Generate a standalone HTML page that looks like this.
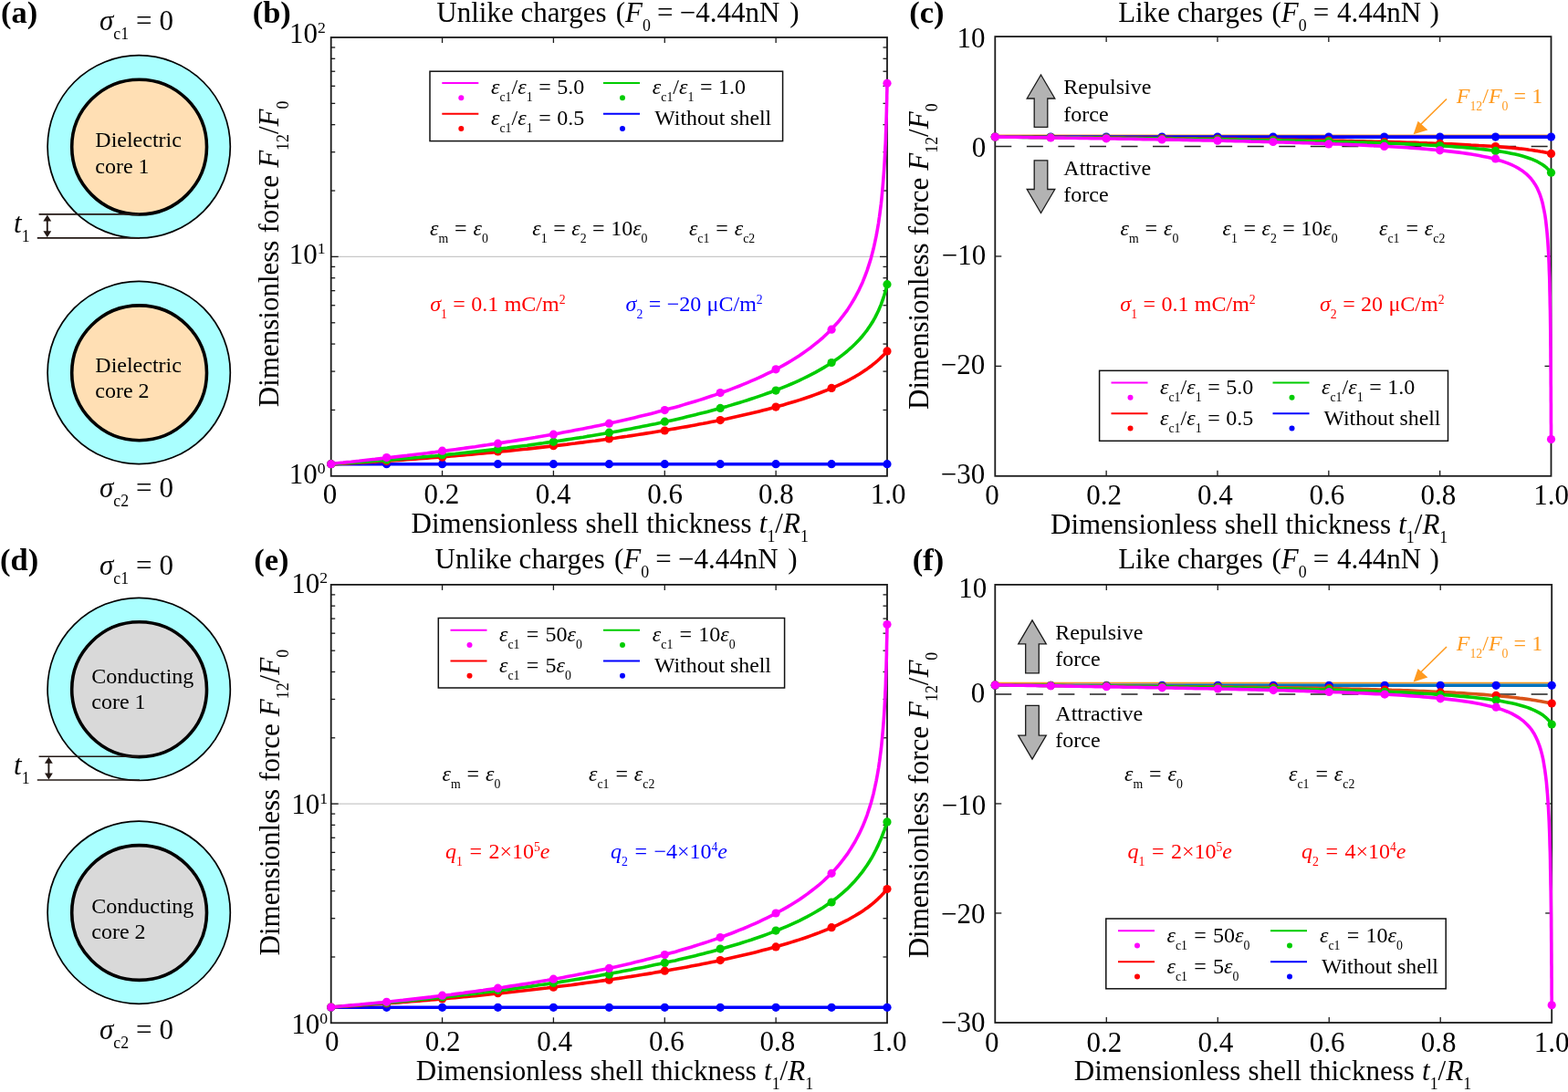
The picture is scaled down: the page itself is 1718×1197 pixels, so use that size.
<!DOCTYPE html>
<html lang="en"><head><meta charset="utf-8"><title>Figure</title>
<style>
html,body{margin:0;padding:0;background:#fff;}
body{width:1718px;height:1197px;overflow:hidden;}
svg{display:block;font-family:'Liberation Serif','DejaVu Serif',serif;}
text{white-space:pre;}
</style></head><body>
<svg width="1718" height="1197" viewBox="0 0 1718 1197">
<rect width="1718" height="1197" fill="#fff"/>
<circle cx="152.2" cy="160.8" r="100.1" fill="#aaffff" stroke="#000" stroke-width="1.7"/>
<circle cx="152.6" cy="161.10000000000002" r="73.9" fill="#ffdfb4" stroke="#000" stroke-width="3.6"/>
<text x="104.30" y="161.00" font-size="24">Dielectric</text>
<text x="104.30" y="189.70" font-size="24">core 1</text>
<circle cx="152.2" cy="408.5" r="100.1" fill="#aaffff" stroke="#000" stroke-width="1.7"/>
<circle cx="152.6" cy="408.8" r="73.9" fill="#ffdfb4" stroke="#000" stroke-width="3.6"/>
<text x="104.30" y="407.80" font-size="24">Dielectric</text>
<text x="104.30" y="436.30" font-size="24">core 2</text>
<line x1="42.60" y1="234.90" x2="152.00" y2="234.90" stroke="#231815" stroke-width="1.6"/>
<line x1="40.80" y1="260.90" x2="153.00" y2="260.90" stroke="#231815" stroke-width="1.6"/>
<line x1="51.80" y1="239.90" x2="51.80" y2="255.90" stroke="#231815" stroke-width="1.9"/>
<path d="M51.8 235.5 L47.4 242.5 L56.199999999999996 242.5 Z" fill="#231815"/>
<path d="M51.8 260.29999999999995 L47.4 253.29999999999998 L56.199999999999996 253.29999999999998 Z" fill="#231815"/>
<text x="15.00" y="255.00" font-size="31"><tspan font-style="italic">t</tspan><tspan dy="10.23" font-size="17.82">1</tspan></text>
<text x="109.00" y="33.00" font-size="31" word-spacing="0.2"><tspan font-style="italic">σ</tspan><tspan dy="10.23" font-size="17.82">c1</tspan><tspan dy="-10.23"> = 0</tspan></text>
<text x="109.00" y="544.60" font-size="31" word-spacing="0.2"><tspan font-style="italic">σ</tspan><tspan dy="10.23" font-size="17.82">c2</tspan><tspan dy="-10.23"> = 0</tspan></text>
<text x="1.00" y="24.90" font-size="34.5" font-weight="bold">(a)</text>
<circle cx="152.2" cy="755.4" r="100.1" fill="#aaffff" stroke="#000" stroke-width="1.7"/>
<circle cx="152.6" cy="755.6999999999999" r="73.9" fill="#d9d9d9" stroke="#000" stroke-width="3.6"/>
<text x="100.30" y="748.60" font-size="24">Conducting</text>
<text x="100.30" y="777.40" font-size="24">core 1</text>
<circle cx="152.2" cy="1000.2" r="100.1" fill="#aaffff" stroke="#000" stroke-width="1.7"/>
<circle cx="152.6" cy="1000.5" r="73.9" fill="#d9d9d9" stroke="#000" stroke-width="3.6"/>
<text x="100.30" y="1000.50" font-size="24">Conducting</text>
<text x="100.30" y="1029.30" font-size="24">core 2</text>
<line x1="42.60" y1="829.20" x2="152.00" y2="829.20" stroke="#231815" stroke-width="1.6"/>
<line x1="40.80" y1="855.00" x2="153.00" y2="855.00" stroke="#231815" stroke-width="1.6"/>
<line x1="53.40" y1="834.20" x2="53.40" y2="850.00" stroke="#231815" stroke-width="1.9"/>
<path d="M53.4 829.8000000000001 L49.0 836.8000000000001 L57.8 836.8000000000001 Z" fill="#231815"/>
<path d="M53.4 854.4 L49.0 847.4 L57.8 847.4 Z" fill="#231815"/>
<text x="15.00" y="849.20" font-size="31"><tspan font-style="italic">t</tspan><tspan dy="10.23" font-size="17.82">1</tspan></text>
<text x="109.00" y="630.00" font-size="31" word-spacing="0.2"><tspan font-style="italic">σ</tspan><tspan dy="10.23" font-size="17.82">c1</tspan><tspan dy="-10.23"> = 0</tspan></text>
<text x="109.00" y="1139.20" font-size="31" word-spacing="0.2"><tspan font-style="italic">σ</tspan><tspan dy="10.23" font-size="17.82">c2</tspan><tspan dy="-10.23"> = 0</tspan></text>
<text x="0.10" y="624.50" font-size="34.5" font-weight="bold">(d)</text>
<line x1="362.70" y1="281.40" x2="972.00" y2="281.40" stroke="#c8c8c8" stroke-width="1.3"/>
<rect x="362.7" y="41.0" width="609.30" height="480.80" fill="none" stroke="#1a1a1a" stroke-width="1.8"/>
<line x1="484.56" y1="41.00" x2="484.56" y2="47.00" stroke="#1a1a1a" stroke-width="1.3"/>
<line x1="484.56" y1="521.80" x2="484.56" y2="515.80" stroke="#1a1a1a" stroke-width="1.3"/>
<line x1="606.42" y1="41.00" x2="606.42" y2="47.00" stroke="#1a1a1a" stroke-width="1.3"/>
<line x1="606.42" y1="521.80" x2="606.42" y2="515.80" stroke="#1a1a1a" stroke-width="1.3"/>
<line x1="728.28" y1="41.00" x2="728.28" y2="47.00" stroke="#1a1a1a" stroke-width="1.3"/>
<line x1="728.28" y1="521.80" x2="728.28" y2="515.80" stroke="#1a1a1a" stroke-width="1.3"/>
<line x1="850.14" y1="41.00" x2="850.14" y2="47.00" stroke="#1a1a1a" stroke-width="1.3"/>
<line x1="850.14" y1="521.80" x2="850.14" y2="515.80" stroke="#1a1a1a" stroke-width="1.3"/>
<line x1="362.70" y1="449.43" x2="367.20" y2="449.43" stroke="#1a1a1a" stroke-width="1.3"/>
<line x1="972.00" y1="449.43" x2="967.50" y2="449.43" stroke="#1a1a1a" stroke-width="1.3"/>
<line x1="362.70" y1="407.10" x2="367.20" y2="407.10" stroke="#1a1a1a" stroke-width="1.3"/>
<line x1="972.00" y1="407.10" x2="967.50" y2="407.10" stroke="#1a1a1a" stroke-width="1.3"/>
<line x1="362.70" y1="377.06" x2="367.20" y2="377.06" stroke="#1a1a1a" stroke-width="1.3"/>
<line x1="972.00" y1="377.06" x2="967.50" y2="377.06" stroke="#1a1a1a" stroke-width="1.3"/>
<line x1="362.70" y1="353.77" x2="367.20" y2="353.77" stroke="#1a1a1a" stroke-width="1.3"/>
<line x1="972.00" y1="353.77" x2="967.50" y2="353.77" stroke="#1a1a1a" stroke-width="1.3"/>
<line x1="362.70" y1="334.73" x2="367.20" y2="334.73" stroke="#1a1a1a" stroke-width="1.3"/>
<line x1="972.00" y1="334.73" x2="967.50" y2="334.73" stroke="#1a1a1a" stroke-width="1.3"/>
<line x1="362.70" y1="318.64" x2="367.20" y2="318.64" stroke="#1a1a1a" stroke-width="1.3"/>
<line x1="972.00" y1="318.64" x2="967.50" y2="318.64" stroke="#1a1a1a" stroke-width="1.3"/>
<line x1="362.70" y1="304.70" x2="367.20" y2="304.70" stroke="#1a1a1a" stroke-width="1.3"/>
<line x1="972.00" y1="304.70" x2="967.50" y2="304.70" stroke="#1a1a1a" stroke-width="1.3"/>
<line x1="362.70" y1="292.40" x2="367.20" y2="292.40" stroke="#1a1a1a" stroke-width="1.3"/>
<line x1="972.00" y1="292.40" x2="967.50" y2="292.40" stroke="#1a1a1a" stroke-width="1.3"/>
<line x1="362.70" y1="209.03" x2="367.20" y2="209.03" stroke="#1a1a1a" stroke-width="1.3"/>
<line x1="972.00" y1="209.03" x2="967.50" y2="209.03" stroke="#1a1a1a" stroke-width="1.3"/>
<line x1="362.70" y1="166.70" x2="367.20" y2="166.70" stroke="#1a1a1a" stroke-width="1.3"/>
<line x1="972.00" y1="166.70" x2="967.50" y2="166.70" stroke="#1a1a1a" stroke-width="1.3"/>
<line x1="362.70" y1="136.66" x2="367.20" y2="136.66" stroke="#1a1a1a" stroke-width="1.3"/>
<line x1="972.00" y1="136.66" x2="967.50" y2="136.66" stroke="#1a1a1a" stroke-width="1.3"/>
<line x1="362.70" y1="113.37" x2="367.20" y2="113.37" stroke="#1a1a1a" stroke-width="1.3"/>
<line x1="972.00" y1="113.37" x2="967.50" y2="113.37" stroke="#1a1a1a" stroke-width="1.3"/>
<line x1="362.70" y1="94.33" x2="367.20" y2="94.33" stroke="#1a1a1a" stroke-width="1.3"/>
<line x1="972.00" y1="94.33" x2="967.50" y2="94.33" stroke="#1a1a1a" stroke-width="1.3"/>
<line x1="362.70" y1="78.24" x2="367.20" y2="78.24" stroke="#1a1a1a" stroke-width="1.3"/>
<line x1="972.00" y1="78.24" x2="967.50" y2="78.24" stroke="#1a1a1a" stroke-width="1.3"/>
<line x1="362.70" y1="64.30" x2="367.20" y2="64.30" stroke="#1a1a1a" stroke-width="1.3"/>
<line x1="972.00" y1="64.30" x2="967.50" y2="64.30" stroke="#1a1a1a" stroke-width="1.3"/>
<line x1="362.70" y1="52.00" x2="367.20" y2="52.00" stroke="#1a1a1a" stroke-width="1.3"/>
<line x1="972.00" y1="52.00" x2="967.50" y2="52.00" stroke="#1a1a1a" stroke-width="1.3"/>
<line x1="362.70" y1="281.40" x2="370.70" y2="281.40" stroke="#1a1a1a" stroke-width="1.3"/>
<line x1="972.00" y1="281.40" x2="964.00" y2="281.40" stroke="#1a1a1a" stroke-width="1.3"/>
<rect x="471" y="78.2" width="386.60" height="76.40" fill="#fff" stroke="#111" stroke-width="1.5"/>
<line x1="484.30" y1="91.00" x2="524.30" y2="91.00" stroke="#ff00ff" stroke-width="2.0"/>
<circle cx="505.3" cy="107.3" r="3" fill="#ff00ff"/>
<text x="538.00" y="103.40" font-size="24" word-spacing="0.6"><tspan font-style="italic">ε</tspan><tspan dy="7.92" font-size="13.80">c1</tspan><tspan dy="-7.92">/</tspan><tspan font-style="italic">ε</tspan><tspan dy="7.92" font-size="13.80">1</tspan><tspan dy="-7.92"> = 5.0</tspan></text>
<line x1="484.30" y1="124.80" x2="524.30" y2="124.80" stroke="#ff0000" stroke-width="2.0"/>
<circle cx="505.3" cy="141.1" r="3" fill="#ff0000"/>
<text x="538.00" y="137.20" font-size="24" word-spacing="0.6"><tspan font-style="italic">ε</tspan><tspan dy="7.92" font-size="13.80">c1</tspan><tspan dy="-7.92">/</tspan><tspan font-style="italic">ε</tspan><tspan dy="7.92" font-size="13.80">1</tspan><tspan dy="-7.92"> = 0.5</tspan></text>
<line x1="661.00" y1="91.00" x2="701.00" y2="91.00" stroke="#00cc00" stroke-width="2.0"/>
<circle cx="682.0" cy="107.3" r="3" fill="#00cc00"/>
<text x="714.80" y="103.40" font-size="24" word-spacing="0.6"><tspan font-style="italic">ε</tspan><tspan dy="7.92" font-size="13.80">c1</tspan><tspan dy="-7.92">/</tspan><tspan font-style="italic">ε</tspan><tspan dy="7.92" font-size="13.80">1</tspan><tspan dy="-7.92"> = 1.0</tspan></text>
<line x1="661.00" y1="124.80" x2="701.00" y2="124.80" stroke="#0000ff" stroke-width="2.0"/>
<circle cx="682.0" cy="141.1" r="3" fill="#0000ff"/>
<text x="717.30" y="137.20" font-size="23.8">Without shell</text>
<text x="471.00" y="257.60" font-size="24" word-spacing="0.9"><tspan font-style="italic">ε</tspan><tspan dy="7.92" font-size="13.80">m</tspan><tspan dy="-7.92"> = </tspan><tspan font-style="italic">ε</tspan><tspan dy="7.92" font-size="13.80">0</tspan></text>
<text x="583.30" y="257.60" font-size="24" word-spacing="0.5"><tspan font-style="italic">ε</tspan><tspan dy="7.92" font-size="13.80">1</tspan><tspan dy="-7.92"> = </tspan><tspan font-style="italic">ε</tspan><tspan dy="7.92" font-size="13.80">2</tspan><tspan dy="-7.92"> = 10</tspan><tspan font-style="italic">ε</tspan><tspan dy="7.92" font-size="13.80">0</tspan></text>
<text x="754.90" y="257.60" font-size="24" word-spacing="0.9"><tspan font-style="italic">ε</tspan><tspan dy="7.92" font-size="13.80">c1</tspan><tspan dy="-7.92"> = </tspan><tspan font-style="italic">ε</tspan><tspan dy="7.92" font-size="13.80">c2</tspan></text>
<text x="471.20" y="340.80" font-size="24" fill="#ff0000" word-spacing="0.4"><tspan font-style="italic">σ</tspan><tspan dy="7.92" font-size="13.80">1</tspan><tspan dy="-7.92"> = 0.1 mC/m</tspan><tspan dy="-8.28" font-size="13.68">2</tspan></text>
<text x="685.60" y="340.80" font-size="24" fill="#0000ff" word-spacing="0.4"><tspan font-style="italic">σ</tspan><tspan dy="7.92" font-size="13.80">2</tspan><tspan dy="-7.92"> = −20 μC/m</tspan><tspan dy="-8.28" font-size="13.68">2</tspan></text>
<line x1="362.70" y1="508.70" x2="972.00" y2="508.70" stroke="#0000ff" stroke-width="3.6"/>
<circle cx="362.7" cy="508.7" r="4.6" fill="#0000ff"/>
<circle cx="423.6" cy="508.7" r="4.6" fill="#0000ff"/>
<circle cx="484.6" cy="508.7" r="4.6" fill="#0000ff"/>
<circle cx="545.5" cy="508.7" r="4.6" fill="#0000ff"/>
<circle cx="606.4" cy="508.7" r="4.6" fill="#0000ff"/>
<circle cx="667.4" cy="508.7" r="4.6" fill="#0000ff"/>
<circle cx="728.3" cy="508.7" r="4.6" fill="#0000ff"/>
<circle cx="789.2" cy="508.7" r="4.6" fill="#0000ff"/>
<circle cx="850.1" cy="508.7" r="4.6" fill="#0000ff"/>
<circle cx="911.1" cy="508.7" r="4.6" fill="#0000ff"/>
<circle cx="972.0" cy="508.7" r="4.6" fill="#0000ff"/>
<path d="M362.7,508.9 367.1,508.7 371.5,508.4 375.9,508.2 380.2,507.9 384.6,507.7 389.0,507.4 393.4,507.2 397.8,506.9 402.2,506.7 406.5,506.4 410.9,506.1 415.3,505.8 419.7,505.6 424.1,505.3 428.5,505.0 432.8,504.7 437.2,504.4 441.6,504.1 446.0,503.8 450.4,503.4 454.8,503.1 459.1,502.8 463.5,502.5 467.9,502.1 472.3,501.8 476.7,501.4 481.1,501.1 485.4,500.7 489.8,500.4 494.2,500.0 498.6,499.6 503.0,499.3 507.4,498.9 511.7,498.5 516.1,498.1 520.5,497.7 524.9,497.3 529.3,496.9 533.7,496.5 538.0,496.1 542.4,495.7 546.8,495.2 551.2,494.8 555.6,494.4 560.0,493.9 564.3,493.5 568.7,493.0 573.1,492.5 577.5,492.1 581.9,491.6 586.3,491.1 590.6,490.6 595.0,490.1 599.4,489.6 603.8,489.1 608.2,488.6 612.6,488.1 616.9,487.6 621.3,487.1 625.7,486.5 630.1,486.0 634.5,485.4 638.9,484.9 643.2,484.3 647.6,483.7 652.0,483.2 656.4,482.6 660.8,482.0 665.2,481.4 669.5,480.8 673.9,480.2 678.3,479.5 682.7,478.9 687.1,478.3 691.5,477.6 695.8,477.0 700.2,476.3 704.6,475.6 709.0,474.9 713.4,474.2 717.8,473.5 722.1,472.8 726.5,472.1 730.9,471.4 735.3,470.6 739.7,469.9 744.1,469.1 748.4,468.3 752.8,467.6 757.2,466.8 761.6,465.9 766.0,465.1 770.4,464.3 774.7,463.4 779.1,462.6 783.5,461.7 787.9,460.8 792.3,459.9 796.7,459.0 801.0,458.0 805.4,457.1 809.8,456.1 814.2,455.1 818.6,454.1 823.0,453.0 827.3,452.0 831.7,450.9 836.1,449.8 840.5,448.7 844.9,447.5 849.3,446.4 853.6,445.1 858.0,443.9 862.4,442.6 866.8,441.3 871.2,440.0 875.6,438.6 879.9,437.2 884.3,435.7 888.7,434.2 893.1,432.6 897.5,431.0 901.9,429.3 906.2,427.6 910.6,425.7 915.0,423.8 917.8,422.6 923.7,419.8 928.2,417.6 932.5,415.2 936.9,412.8 941.3,410.2 945.1,407.8 948.0,405.8 950.1,404.4 953.0,402.3 955.1,400.7 958.6,397.9 961.4,395.5 963.6,393.5 966.1,391.1 968.3,388.9 970.2,387.0 971.8,385.1 972.0,384.9" fill="none" stroke="#ff0000" stroke-width="3.6" stroke-linejoin="round" stroke-linecap="butt"/>
<circle cx="362.7" cy="508.7" r="4.6" fill="#ff0000"/>
<circle cx="423.6" cy="505.5" r="4.6" fill="#ff0000"/>
<circle cx="484.6" cy="501.2" r="4.6" fill="#ff0000"/>
<circle cx="545.5" cy="495.0" r="4.6" fill="#ff0000"/>
<circle cx="606.4" cy="488.7" r="4.6" fill="#ff0000"/>
<circle cx="667.4" cy="481.0" r="4.6" fill="#ff0000"/>
<circle cx="728.3" cy="472.0" r="4.6" fill="#ff0000"/>
<circle cx="789.2" cy="460.6" r="4.6" fill="#ff0000"/>
<circle cx="850.1" cy="446.1" r="4.6" fill="#ff0000"/>
<circle cx="911.1" cy="425.4" r="4.6" fill="#ff0000"/>
<circle cx="972.0" cy="384.9" r="4.6" fill="#ff0000"/>
<path d="M362.7,508.6 367.1,508.4 371.5,508.1 375.9,507.8 380.2,507.5 384.6,507.2 389.0,506.9 393.4,506.6 397.8,506.3 402.2,506.0 406.5,505.6 410.9,505.3 415.3,505.0 419.7,504.6 424.1,504.3 428.5,503.9 432.8,503.6 437.2,503.2 441.6,502.8 446.0,502.5 450.4,502.1 454.8,501.7 459.1,501.3 463.5,500.9 467.9,500.5 472.3,500.1 476.7,499.7 481.1,499.2 485.4,498.8 489.8,498.4 494.2,497.9 498.6,497.5 503.0,497.0 507.4,496.5 511.7,496.1 516.1,495.6 520.5,495.1 524.9,494.6 529.3,494.1 533.7,493.6 538.0,493.1 542.4,492.6 546.8,492.1 551.2,491.5 555.6,491.0 560.0,490.4 564.3,489.9 568.7,489.3 573.1,488.7 577.5,488.2 581.9,487.6 586.3,487.0 590.6,486.4 595.0,485.8 599.4,485.1 603.8,484.5 608.2,483.9 612.6,483.2 616.9,482.6 621.3,481.9 625.7,481.2 630.1,480.5 634.5,479.9 638.9,479.2 643.2,478.4 647.6,477.7 652.0,477.0 656.4,476.2 660.8,475.5 665.2,474.7 669.5,474.0 673.9,473.2 678.3,472.4 682.7,471.6 687.1,470.7 691.5,469.9 695.8,469.1 700.2,468.2 704.6,467.3 709.0,466.5 713.4,465.6 717.8,464.7 722.1,463.7 726.5,462.8 730.9,461.8 735.3,460.9 739.7,459.9 744.1,458.9 748.4,457.9 752.8,456.8 757.2,455.8 761.6,454.7 766.0,453.6 770.4,452.5 774.7,451.4 779.1,450.2 783.5,449.0 787.9,447.8 792.3,446.6 796.7,445.4 801.0,444.1 805.4,442.8 809.8,441.5 814.2,440.1 818.6,438.8 823.0,437.3 827.3,435.9 831.7,434.4 836.1,432.9 840.5,431.3 844.9,429.7 849.3,428.1 853.6,426.4 858.0,424.6 862.4,422.8 866.8,421.0 871.2,419.1 875.6,417.1 879.9,415.0 884.3,412.9 888.7,410.7 893.1,408.4 897.5,405.9 901.9,403.4 906.2,400.8 910.6,398.0 915.0,395.0 917.8,393.1 923.7,388.6 928.2,385.0 932.5,381.2 936.9,377.0 941.3,372.5 945.1,368.2 948.0,364.5 950.1,361.8 953.0,357.6 954.5,355.3 957.0,351.2 958.6,348.3 960.1,345.4 961.4,342.8 962.6,340.3 963.6,337.9 965.4,333.6 966.7,329.9 967.6,327.3 968.7,324.0 969.7,320.7 970.4,318.2 971.1,315.5 971.7,312.9 972.0,311.7" fill="none" stroke="#00cc00" stroke-width="3.6" stroke-linejoin="round" stroke-linecap="butt"/>
<circle cx="362.7" cy="508.7" r="4.6" fill="#00cc00"/>
<circle cx="423.6" cy="504.2" r="4.6" fill="#00cc00"/>
<circle cx="484.6" cy="498.7" r="4.6" fill="#00cc00"/>
<circle cx="545.5" cy="492.5" r="4.6" fill="#00cc00"/>
<circle cx="606.4" cy="484.3" r="4.6" fill="#00cc00"/>
<circle cx="667.4" cy="474.2" r="4.6" fill="#00cc00"/>
<circle cx="728.3" cy="462.2" r="4.6" fill="#00cc00"/>
<circle cx="789.2" cy="447.4" r="4.6" fill="#00cc00"/>
<circle cx="850.1" cy="428.1" r="4.6" fill="#00cc00"/>
<circle cx="911.1" cy="397.5" r="4.6" fill="#00cc00"/>
<circle cx="972.0" cy="311.7" r="4.6" fill="#00cc00"/>
<path d="M362.7,508.4 367.1,508.0 371.5,507.5 375.9,507.1 380.2,506.6 384.6,506.2 389.0,505.7 393.4,505.3 397.8,504.8 402.2,504.3 406.5,503.8 410.9,503.4 415.3,502.9 419.7,502.4 424.1,501.9 428.5,501.4 432.8,500.9 437.2,500.4 441.6,499.9 446.0,499.4 450.4,498.8 454.8,498.3 459.1,497.8 463.5,497.2 467.9,496.7 472.3,496.1 476.7,495.6 481.1,495.0 485.4,494.4 489.8,493.9 494.2,493.3 498.6,492.7 503.0,492.1 507.4,491.5 511.7,490.9 516.1,490.3 520.5,489.7 524.9,489.0 529.3,488.4 533.7,487.8 538.0,487.1 542.4,486.5 546.8,485.8 551.2,485.1 555.6,484.4 560.0,483.8 564.3,483.1 568.7,482.4 573.1,481.7 577.5,480.9 581.9,480.2 586.3,479.5 590.6,478.7 595.0,478.0 599.4,477.2 603.8,476.5 608.2,475.7 612.6,474.9 616.9,474.1 621.3,473.3 625.7,472.5 630.1,471.6 634.5,470.8 638.9,469.9 643.2,469.1 647.6,468.2 652.0,467.3 656.4,466.4 660.8,465.5 665.2,464.6 669.5,463.6 673.9,462.7 678.3,461.7 682.7,460.7 687.1,459.7 691.5,458.7 695.8,457.7 700.2,456.6 704.6,455.6 709.0,454.5 713.4,453.4 717.8,452.3 722.1,451.1 726.5,450.0 730.9,448.8 735.3,447.6 739.7,446.4 744.1,445.2 748.4,443.9 752.8,442.6 757.2,441.3 761.6,440.0 766.0,438.6 770.4,437.2 774.7,435.8 779.1,434.3 783.5,432.9 787.9,431.3 792.3,429.8 796.7,428.2 801.0,426.6 805.4,424.9 809.8,423.2 814.2,421.4 818.6,419.6 823.0,417.7 827.3,415.8 831.7,413.9 836.1,411.8 840.5,409.7 844.9,407.6 849.3,405.3 853.6,403.0 858.0,400.6 862.4,398.1 866.8,395.5 871.2,392.8 875.6,390.0 879.9,387.0 884.3,383.9 888.7,380.7 893.1,377.2 897.5,373.6 901.9,369.8 906.2,365.7 910.6,361.3 915.0,356.6 917.8,353.5 919.4,351.6 923.7,346.1 928.2,340.1 932.5,333.4 936.9,326.0 941.3,317.6 945.1,309.4 948.0,302.0 950.1,296.4 953.0,287.4 954.5,282.4 957.0,272.8 958.6,265.6 960.1,258.4 961.4,251.3 962.6,244.2 963.2,239.8 963.6,237.2 964.5,230.2 965.4,223.3 966.1,216.6 966.7,209.9 967.3,203.4 967.6,199.7 967.8,197.0 968.3,190.7 968.7,184.6 969.1,178.7 969.4,173.0 969.7,167.4 969.9,162.1 970.2,157.0 970.4,152.1 970.5,147.5 970.7,143.0 970.8,138.9 971.0,134.9 971.1,131.2 971.2,127.8 971.3,124.6 971.4,121.6 971.4,118.8 971.5,116.2 971.6,111.7 971.7,107.9 971.7,104.7 971.8,102.1 971.9,99.1 971.9,96.3 972.0,93.5 972.0,91.3" fill="none" stroke="#ff00ff" stroke-width="3.6" stroke-linejoin="round" stroke-linecap="butt"/>
<circle cx="362.7" cy="508.7" r="4.6" fill="#ff00ff"/>
<circle cx="423.6" cy="501.6" r="4.6" fill="#ff00ff"/>
<circle cx="484.6" cy="494.2" r="4.6" fill="#ff00ff"/>
<circle cx="545.5" cy="486.2" r="4.6" fill="#ff00ff"/>
<circle cx="606.4" cy="476.2" r="4.6" fill="#ff00ff"/>
<circle cx="667.4" cy="464.2" r="4.6" fill="#ff00ff"/>
<circle cx="728.3" cy="449.6" r="4.6" fill="#ff00ff"/>
<circle cx="789.2" cy="430.6" r="4.6" fill="#ff00ff"/>
<circle cx="850.1" cy="404.8" r="4.6" fill="#ff00ff"/>
<circle cx="911.1" cy="361.2" r="4.6" fill="#ff00ff"/>
<circle cx="972.0" cy="91.3" r="4.6" fill="#ff00ff"/>
<text x="361.50" y="552.00" font-size="31" text-anchor="middle">0</text>
<text x="483.81" y="552.00" font-size="31" text-anchor="middle">0.2</text>
<text x="606.12" y="552.00" font-size="31" text-anchor="middle">0.4</text>
<text x="728.58" y="552.00" font-size="31" text-anchor="middle">0.6</text>
<text x="850.34" y="552.00" font-size="31" text-anchor="middle">0.8</text>
<text x="973.00" y="552.00" font-size="31" text-anchor="middle">1.0</text>
<text x="317.00" y="47.10" font-size="31">10<tspan dy="-10.69" font-size="17.67">2</tspan></text>
<text x="316.70" y="288.70" font-size="31">10<tspan dy="-10.69" font-size="17.67">1</tspan></text>
<text x="316.70" y="529.70" font-size="31">10<tspan dy="-10.69" font-size="17.67">0</tspan></text>
<text x="478.30" y="23.50" font-size="31.0">Unlike charges <tspan dx="2.5">(</tspan><tspan font-style="italic">F</tspan><tspan dy="10.23" font-size="17.82">0</tspan><tspan dy="-10.23" word-spacing="-0.6"> = </tspan>−4.44nN<tspan dx="3.0"> )</tspan></text>
<text x="450.60" y="583.50" font-size="31" word-spacing="0.5">Dimensionless shell thickness <tspan font-style="italic">t</tspan><tspan dy="10.23" font-size="17.82">1</tspan><tspan dy="-10.23">/</tspan><tspan font-style="italic">R</tspan><tspan dy="10.23" font-size="17.82">1</tspan></text>
<text x="0.00" y="0.00" font-size="31" text-anchor="middle" word-spacing="0.3" transform="translate(305.40 278.40) rotate(-90)">Dimensionless force <tspan font-style="italic">F</tspan><tspan dy="10.23" font-size="17.82">12</tspan><tspan dy="-10.23">/</tspan><tspan font-style="italic">F</tspan><tspan dy="10.23" font-size="17.82">0</tspan></text>
<text x="276.70" y="24.80" font-size="34.5" font-weight="bold">(b)</text>
<line x1="362.70" y1="881.10" x2="972.00" y2="881.10" stroke="#c8c8c8" stroke-width="1.3"/>
<rect x="362.7" y="640.9" width="609.30" height="480.40" fill="none" stroke="#1a1a1a" stroke-width="1.8"/>
<line x1="484.56" y1="640.90" x2="484.56" y2="646.90" stroke="#1a1a1a" stroke-width="1.3"/>
<line x1="484.56" y1="1121.30" x2="484.56" y2="1115.30" stroke="#1a1a1a" stroke-width="1.3"/>
<line x1="606.42" y1="640.90" x2="606.42" y2="646.90" stroke="#1a1a1a" stroke-width="1.3"/>
<line x1="606.42" y1="1121.30" x2="606.42" y2="1115.30" stroke="#1a1a1a" stroke-width="1.3"/>
<line x1="728.28" y1="640.90" x2="728.28" y2="646.90" stroke="#1a1a1a" stroke-width="1.3"/>
<line x1="728.28" y1="1121.30" x2="728.28" y2="1115.30" stroke="#1a1a1a" stroke-width="1.3"/>
<line x1="850.14" y1="640.90" x2="850.14" y2="646.90" stroke="#1a1a1a" stroke-width="1.3"/>
<line x1="850.14" y1="1121.30" x2="850.14" y2="1115.30" stroke="#1a1a1a" stroke-width="1.3"/>
<line x1="362.70" y1="1048.99" x2="367.20" y2="1048.99" stroke="#1a1a1a" stroke-width="1.3"/>
<line x1="972.00" y1="1048.99" x2="967.50" y2="1048.99" stroke="#1a1a1a" stroke-width="1.3"/>
<line x1="362.70" y1="1006.70" x2="367.20" y2="1006.70" stroke="#1a1a1a" stroke-width="1.3"/>
<line x1="972.00" y1="1006.70" x2="967.50" y2="1006.70" stroke="#1a1a1a" stroke-width="1.3"/>
<line x1="362.70" y1="976.69" x2="367.20" y2="976.69" stroke="#1a1a1a" stroke-width="1.3"/>
<line x1="972.00" y1="976.69" x2="967.50" y2="976.69" stroke="#1a1a1a" stroke-width="1.3"/>
<line x1="362.70" y1="953.41" x2="367.20" y2="953.41" stroke="#1a1a1a" stroke-width="1.3"/>
<line x1="972.00" y1="953.41" x2="967.50" y2="953.41" stroke="#1a1a1a" stroke-width="1.3"/>
<line x1="362.70" y1="934.39" x2="367.20" y2="934.39" stroke="#1a1a1a" stroke-width="1.3"/>
<line x1="972.00" y1="934.39" x2="967.50" y2="934.39" stroke="#1a1a1a" stroke-width="1.3"/>
<line x1="362.70" y1="918.31" x2="367.20" y2="918.31" stroke="#1a1a1a" stroke-width="1.3"/>
<line x1="972.00" y1="918.31" x2="967.50" y2="918.31" stroke="#1a1a1a" stroke-width="1.3"/>
<line x1="362.70" y1="904.38" x2="367.20" y2="904.38" stroke="#1a1a1a" stroke-width="1.3"/>
<line x1="972.00" y1="904.38" x2="967.50" y2="904.38" stroke="#1a1a1a" stroke-width="1.3"/>
<line x1="362.70" y1="892.09" x2="367.20" y2="892.09" stroke="#1a1a1a" stroke-width="1.3"/>
<line x1="972.00" y1="892.09" x2="967.50" y2="892.09" stroke="#1a1a1a" stroke-width="1.3"/>
<line x1="362.70" y1="808.79" x2="367.20" y2="808.79" stroke="#1a1a1a" stroke-width="1.3"/>
<line x1="972.00" y1="808.79" x2="967.50" y2="808.79" stroke="#1a1a1a" stroke-width="1.3"/>
<line x1="362.70" y1="766.50" x2="367.20" y2="766.50" stroke="#1a1a1a" stroke-width="1.3"/>
<line x1="972.00" y1="766.50" x2="967.50" y2="766.50" stroke="#1a1a1a" stroke-width="1.3"/>
<line x1="362.70" y1="736.49" x2="367.20" y2="736.49" stroke="#1a1a1a" stroke-width="1.3"/>
<line x1="972.00" y1="736.49" x2="967.50" y2="736.49" stroke="#1a1a1a" stroke-width="1.3"/>
<line x1="362.70" y1="713.21" x2="367.20" y2="713.21" stroke="#1a1a1a" stroke-width="1.3"/>
<line x1="972.00" y1="713.21" x2="967.50" y2="713.21" stroke="#1a1a1a" stroke-width="1.3"/>
<line x1="362.70" y1="694.19" x2="367.20" y2="694.19" stroke="#1a1a1a" stroke-width="1.3"/>
<line x1="972.00" y1="694.19" x2="967.50" y2="694.19" stroke="#1a1a1a" stroke-width="1.3"/>
<line x1="362.70" y1="678.11" x2="367.20" y2="678.11" stroke="#1a1a1a" stroke-width="1.3"/>
<line x1="972.00" y1="678.11" x2="967.50" y2="678.11" stroke="#1a1a1a" stroke-width="1.3"/>
<line x1="362.70" y1="664.18" x2="367.20" y2="664.18" stroke="#1a1a1a" stroke-width="1.3"/>
<line x1="972.00" y1="664.18" x2="967.50" y2="664.18" stroke="#1a1a1a" stroke-width="1.3"/>
<line x1="362.70" y1="651.89" x2="367.20" y2="651.89" stroke="#1a1a1a" stroke-width="1.3"/>
<line x1="972.00" y1="651.89" x2="967.50" y2="651.89" stroke="#1a1a1a" stroke-width="1.3"/>
<line x1="362.70" y1="881.10" x2="370.70" y2="881.10" stroke="#1a1a1a" stroke-width="1.3"/>
<line x1="972.00" y1="881.10" x2="964.00" y2="881.10" stroke="#1a1a1a" stroke-width="1.3"/>
<rect x="480.3" y="677.5" width="379.30" height="76.50" fill="#fff" stroke="#111" stroke-width="1.5"/>
<line x1="493.50" y1="690.70" x2="533.50" y2="690.70" stroke="#ff00ff" stroke-width="2.0"/>
<circle cx="514.5" cy="707.0" r="3" fill="#ff00ff"/>
<text x="547.00" y="703.10" font-size="24" word-spacing="1.2"><tspan font-style="italic">ε</tspan><tspan dy="7.92" font-size="13.80">c1</tspan><tspan dy="-7.92"> = 50</tspan><tspan font-style="italic">ε</tspan><tspan dy="7.92" font-size="13.80">0</tspan></text>
<line x1="493.50" y1="724.50" x2="533.50" y2="724.50" stroke="#ff0000" stroke-width="2.0"/>
<circle cx="514.5" cy="740.8" r="3" fill="#ff0000"/>
<text x="547.00" y="736.90" font-size="24" word-spacing="1.2"><tspan font-style="italic">ε</tspan><tspan dy="7.92" font-size="13.80">c1</tspan><tspan dy="-7.92"> = 5</tspan><tspan font-style="italic">ε</tspan><tspan dy="7.92" font-size="13.80">0</tspan></text>
<line x1="661.00" y1="690.70" x2="701.00" y2="690.70" stroke="#00cc00" stroke-width="2.0"/>
<circle cx="682.0" cy="707.0" r="3" fill="#00cc00"/>
<text x="714.80" y="703.10" font-size="24" word-spacing="1.2"><tspan font-style="italic">ε</tspan><tspan dy="7.92" font-size="13.80">c1</tspan><tspan dy="-7.92"> = 10</tspan><tspan font-style="italic">ε</tspan><tspan dy="7.92" font-size="13.80">0</tspan></text>
<line x1="661.00" y1="724.50" x2="701.00" y2="724.50" stroke="#0000ff" stroke-width="2.0"/>
<circle cx="682.0" cy="740.8" r="3" fill="#0000ff"/>
<text x="717.00" y="736.90" font-size="23.8">Without shell</text>
<text x="484.50" y="856.00" font-size="24" word-spacing="0.9"><tspan font-style="italic">ε</tspan><tspan dy="7.92" font-size="13.80">m</tspan><tspan dy="-7.92"> = </tspan><tspan font-style="italic">ε</tspan><tspan dy="7.92" font-size="13.80">0</tspan></text>
<text x="645.00" y="856.00" font-size="24" word-spacing="0.9"><tspan font-style="italic">ε</tspan><tspan dy="7.92" font-size="13.80">c1</tspan><tspan dy="-7.92"> = </tspan><tspan font-style="italic">ε</tspan><tspan dy="7.92" font-size="13.80">c2</tspan></text>
<text x="488.00" y="941.00" font-size="24" fill="#ff0000" word-spacing="1.5"><tspan font-style="italic">q</tspan><tspan dy="7.92" font-size="13.80">1</tspan><tspan dy="-7.92"> = 2×10</tspan><tspan dy="-8.28" font-size="13.68">5</tspan><tspan dy="8.28" font-style="italic">e</tspan></text>
<text x="669.00" y="941.00" font-size="24" fill="#0000ff" word-spacing="1.5"><tspan font-style="italic">q</tspan><tspan dy="7.92" font-size="13.80">2</tspan><tspan dy="-7.92"> = −4×10</tspan><tspan dy="-8.28" font-size="13.68">4</tspan><tspan dy="8.28" font-style="italic">e</tspan></text>
<line x1="362.70" y1="1104.30" x2="972.00" y2="1104.30" stroke="#0000ff" stroke-width="3.6"/>
<circle cx="362.7" cy="1104.3" r="4.6" fill="#0000ff"/>
<circle cx="423.6" cy="1104.3" r="4.6" fill="#0000ff"/>
<circle cx="484.6" cy="1104.3" r="4.6" fill="#0000ff"/>
<circle cx="545.5" cy="1104.3" r="4.6" fill="#0000ff"/>
<circle cx="606.4" cy="1104.3" r="4.6" fill="#0000ff"/>
<circle cx="667.4" cy="1104.3" r="4.6" fill="#0000ff"/>
<circle cx="728.3" cy="1104.3" r="4.6" fill="#0000ff"/>
<circle cx="789.2" cy="1104.3" r="4.6" fill="#0000ff"/>
<circle cx="850.1" cy="1104.3" r="4.6" fill="#0000ff"/>
<circle cx="911.1" cy="1104.3" r="4.6" fill="#0000ff"/>
<circle cx="972.0" cy="1104.3" r="4.6" fill="#0000ff"/>
<path d="M362.7,1104.0 367.1,1103.8 371.5,1103.5 375.9,1103.2 380.2,1102.9 384.6,1102.6 389.0,1102.4 393.4,1102.1 397.8,1101.8 402.2,1101.5 406.5,1101.1 410.9,1100.8 415.3,1100.5 419.7,1100.2 424.1,1099.9 428.5,1099.5 432.8,1099.2 437.2,1098.9 441.6,1098.5 446.0,1098.2 450.4,1097.8 454.8,1097.5 459.1,1097.1 463.5,1096.7 467.9,1096.4 472.3,1096.0 476.7,1095.6 481.1,1095.2 485.4,1094.8 489.8,1094.4 494.2,1094.0 498.6,1093.6 503.0,1093.2 507.4,1092.8 511.7,1092.4 516.1,1092.0 520.5,1091.6 524.9,1091.1 529.3,1090.7 533.7,1090.2 538.0,1089.8 542.4,1089.3 546.8,1088.9 551.2,1088.4 555.6,1088.0 560.0,1087.5 564.3,1087.0 568.7,1086.5 573.1,1086.0 577.5,1085.5 581.9,1085.0 586.3,1084.5 590.6,1084.0 595.0,1083.5 599.4,1083.0 603.8,1082.4 608.2,1081.9 612.6,1081.3 616.9,1080.8 621.3,1080.2 625.7,1079.7 630.1,1079.1 634.5,1078.5 638.9,1077.9 643.2,1077.3 647.6,1076.7 652.0,1076.1 656.4,1075.5 660.8,1074.9 665.2,1074.3 669.5,1073.7 673.9,1073.0 678.3,1072.4 682.7,1071.7 687.1,1071.0 691.5,1070.4 695.8,1069.7 700.2,1069.0 704.6,1068.3 709.0,1067.6 713.4,1066.9 717.8,1066.1 722.1,1065.4 726.5,1064.6 730.9,1063.9 735.3,1063.1 739.7,1062.3 744.1,1061.5 748.4,1060.7 752.8,1059.9 757.2,1059.1 761.6,1058.3 766.0,1057.4 770.4,1056.5 774.7,1055.7 779.1,1054.8 783.5,1053.9 787.9,1052.9 792.3,1052.0 796.7,1051.0 801.0,1050.1 805.4,1049.1 809.8,1048.1 814.2,1047.1 818.6,1046.0 823.0,1044.9 827.3,1043.9 831.7,1042.8 836.1,1041.6 840.5,1040.5 844.9,1039.3 849.3,1038.1 853.6,1036.8 858.0,1035.6 862.4,1034.3 866.8,1032.9 871.2,1031.5 875.6,1030.1 879.9,1028.7 884.3,1027.2 888.7,1025.6 893.1,1024.0 897.5,1022.4 901.9,1020.6 906.2,1018.9 910.6,1017.0 915.0,1015.1 917.8,1013.8 923.7,1010.9 928.2,1008.7 932.5,1006.3 936.9,1003.8 941.3,1001.1 945.1,998.7 948.0,996.6 950.1,995.2 953.0,993.0 955.1,991.3 958.6,988.4 961.4,985.9 963.2,984.1 965.4,982.0 967.3,979.9 969.1,978.0 970.7,976.1 972.0,974.5" fill="none" stroke="#ff0000" stroke-width="3.6" stroke-linejoin="round" stroke-linecap="butt"/>
<circle cx="362.7" cy="1104.0" r="4.6" fill="#ff0000"/>
<circle cx="423.6" cy="1100.0" r="4.6" fill="#ff0000"/>
<circle cx="484.6" cy="1095.0" r="4.6" fill="#ff0000"/>
<circle cx="545.5" cy="1088.7" r="4.6" fill="#ff0000"/>
<circle cx="606.4" cy="1082.2" r="4.6" fill="#ff0000"/>
<circle cx="667.4" cy="1074.2" r="4.6" fill="#ff0000"/>
<circle cx="728.3" cy="1064.2" r="4.6" fill="#ff0000"/>
<circle cx="789.2" cy="1052.6" r="4.6" fill="#ff0000"/>
<circle cx="850.1" cy="1037.9" r="4.6" fill="#ff0000"/>
<circle cx="911.1" cy="1016.7" r="4.6" fill="#ff0000"/>
<circle cx="972.0" cy="974.5" r="4.6" fill="#ff0000"/>
<path d="M362.7,1104.0 367.1,1103.7 371.5,1103.3 375.9,1103.0 380.2,1102.7 384.6,1102.3 389.0,1102.0 393.4,1101.7 397.8,1101.3 402.2,1100.9 406.5,1100.6 410.9,1100.2 415.3,1099.8 419.7,1099.4 424.1,1099.1 428.5,1098.7 432.8,1098.3 437.2,1097.9 441.6,1097.5 446.0,1097.0 450.4,1096.6 454.8,1096.2 459.1,1095.8 463.5,1095.3 467.9,1094.9 472.3,1094.4 476.7,1094.0 481.1,1093.5 485.4,1093.0 489.8,1092.6 494.2,1092.1 498.6,1091.6 503.0,1091.1 507.4,1090.6 511.7,1090.1 516.1,1089.6 520.5,1089.1 524.9,1088.5 529.3,1088.0 533.7,1087.5 538.0,1086.9 542.4,1086.4 546.8,1085.8 551.2,1085.3 555.6,1084.7 560.0,1084.1 564.3,1083.5 568.7,1082.9 573.1,1082.3 577.5,1081.7 581.9,1081.1 586.3,1080.5 590.6,1079.8 595.0,1079.2 599.4,1078.6 603.8,1077.9 608.2,1077.2 612.6,1076.6 616.9,1075.9 621.3,1075.2 625.7,1074.5 630.1,1073.8 634.5,1073.1 638.9,1072.4 643.2,1071.6 647.6,1070.9 652.0,1070.2 656.4,1069.4 660.8,1068.6 665.2,1067.9 669.5,1067.1 673.9,1066.3 678.3,1065.5 682.7,1064.6 687.1,1063.8 691.5,1063.0 695.8,1062.1 700.2,1061.2 704.6,1060.4 709.0,1059.5 713.4,1058.6 717.8,1057.6 722.1,1056.7 726.5,1055.8 730.9,1054.8 735.3,1053.8 739.7,1052.9 744.1,1051.8 748.4,1050.8 752.8,1049.8 757.2,1048.7 761.6,1047.7 766.0,1046.6 770.4,1045.4 774.7,1044.3 779.1,1043.2 783.5,1042.0 787.9,1040.8 792.3,1039.6 796.7,1038.3 801.0,1037.0 805.4,1035.7 809.8,1034.4 814.2,1033.0 818.6,1031.6 823.0,1030.2 827.3,1028.7 831.7,1027.2 836.1,1025.7 840.5,1024.1 844.9,1022.4 849.3,1020.7 853.6,1019.0 858.0,1017.2 862.4,1015.3 866.8,1013.4 871.2,1011.4 875.6,1009.3 879.9,1007.1 884.3,1004.9 888.7,1002.5 893.1,1000.0 897.5,997.4 901.9,994.7 906.2,991.8 910.6,988.8 915.0,985.5 917.8,983.4 923.7,978.4 928.2,974.4 932.5,970.1 936.9,965.4 941.3,960.2 945.1,955.4 948.0,951.3 950.1,948.3 953.0,943.7 954.5,941.3 957.0,936.9 958.6,933.7 960.1,930.8 961.4,928.1 962.6,925.6 963.6,923.3 965.4,919.2 966.7,915.8 967.8,912.9 969.1,909.6 969.9,907.1 970.8,904.4 971.6,902.0 972.0,900.9" fill="none" stroke="#00cc00" stroke-width="3.6" stroke-linejoin="round" stroke-linecap="butt"/>
<circle cx="362.7" cy="1104.0" r="4.6" fill="#00cc00"/>
<circle cx="423.6" cy="1099.3" r="4.6" fill="#00cc00"/>
<circle cx="484.6" cy="1093.0" r="4.6" fill="#00cc00"/>
<circle cx="545.5" cy="1085.5" r="4.6" fill="#00cc00"/>
<circle cx="606.4" cy="1077.5" r="4.6" fill="#00cc00"/>
<circle cx="667.4" cy="1068.2" r="4.6" fill="#00cc00"/>
<circle cx="728.3" cy="1055.4" r="4.6" fill="#00cc00"/>
<circle cx="789.2" cy="1040.1" r="4.6" fill="#00cc00"/>
<circle cx="850.1" cy="1020.1" r="4.6" fill="#00cc00"/>
<circle cx="911.1" cy="989.0" r="4.6" fill="#00cc00"/>
<circle cx="972.0" cy="900.9" r="4.6" fill="#00cc00"/>
<path d="M362.7,1104.0 367.1,1103.6 371.5,1103.2 375.9,1102.8 380.2,1102.4 384.6,1102.0 389.0,1101.6 393.4,1101.2 397.8,1100.8 402.2,1100.4 406.5,1100.0 410.9,1099.5 415.3,1099.1 419.7,1098.7 424.1,1098.2 428.5,1097.8 432.8,1097.3 437.2,1096.8 441.6,1096.4 446.0,1095.9 450.4,1095.4 454.8,1094.9 459.1,1094.4 463.5,1093.9 467.9,1093.4 472.3,1092.9 476.7,1092.3 481.1,1091.8 485.4,1091.3 489.8,1090.7 494.2,1090.2 498.6,1089.6 503.0,1089.0 507.4,1088.5 511.7,1087.9 516.1,1087.3 520.5,1086.7 524.9,1086.1 529.3,1085.5 533.7,1084.8 538.0,1084.2 542.4,1083.6 546.8,1082.9 551.2,1082.3 555.6,1081.6 560.0,1080.9 564.3,1080.3 568.7,1079.6 573.1,1078.9 577.5,1078.2 581.9,1077.5 586.3,1076.7 590.6,1076.0 595.0,1075.2 599.4,1074.5 603.8,1073.7 608.2,1072.9 612.6,1072.2 616.9,1071.4 621.3,1070.5 625.7,1069.7 630.1,1068.9 634.5,1068.0 638.9,1067.2 643.2,1066.3 647.6,1065.4 652.0,1064.5 656.4,1063.6 660.8,1062.7 665.2,1061.8 669.5,1060.8 673.9,1059.9 678.3,1058.9 682.7,1057.9 687.1,1056.9 691.5,1055.9 695.8,1054.8 700.2,1053.8 704.6,1052.7 709.0,1051.6 713.4,1050.5 717.8,1049.3 722.1,1048.2 726.5,1047.0 730.9,1045.8 735.3,1044.6 739.7,1043.4 744.1,1042.1 748.4,1040.8 752.8,1039.5 757.2,1038.2 761.6,1036.8 766.0,1035.4 770.4,1034.0 774.7,1032.6 779.1,1031.1 783.5,1029.6 787.9,1028.0 792.3,1026.5 796.7,1024.8 801.0,1023.2 805.4,1021.5 809.8,1019.7 814.2,1018.0 818.6,1016.1 823.0,1014.2 827.3,1012.3 831.7,1010.3 836.1,1008.2 840.5,1006.1 844.9,1003.9 849.3,1001.7 853.6,999.3 858.0,996.9 862.4,994.4 866.8,991.7 871.2,989.0 875.6,986.2 879.9,983.2 884.3,980.1 888.7,976.8 893.1,973.4 897.5,969.8 901.9,966.0 906.2,961.9 910.6,957.5 915.0,952.9 917.8,949.7 919.4,947.8 923.7,942.4 928.2,936.4 932.5,929.8 936.9,922.5 941.3,914.2 945.1,906.1 948.0,898.8 950.1,893.3 953.0,884.4 954.5,879.5 957.0,870.1 958.6,862.9 960.1,855.8 961.4,848.8 962.6,841.8 963.2,837.4 963.6,834.8 964.5,827.9 965.4,821.1 966.1,814.4 966.7,807.8 967.3,801.3 967.6,797.6 967.8,794.9 968.3,788.6 968.7,782.5 969.1,776.5 969.4,770.7 969.7,765.1 969.9,759.6 970.2,754.4 970.4,749.4 970.5,744.6 970.7,740.0 970.8,735.7 971.0,731.6 971.1,727.7 971.2,724.1 971.3,720.7 971.4,717.5 971.4,714.5 971.5,711.8 971.5,709.3 971.6,704.8 971.7,701.0 971.8,697.9 971.8,695.3 971.9,692.3 971.9,689.6 972.0,686.8 972.0,684.6" fill="none" stroke="#ff00ff" stroke-width="3.6" stroke-linejoin="round" stroke-linecap="butt"/>
<circle cx="362.7" cy="1104.0" r="4.6" fill="#ff00ff"/>
<circle cx="423.6" cy="1098.3" r="4.6" fill="#ff00ff"/>
<circle cx="484.6" cy="1091.2" r="4.6" fill="#ff00ff"/>
<circle cx="545.5" cy="1083.2" r="4.6" fill="#ff00ff"/>
<circle cx="606.4" cy="1073.2" r="4.6" fill="#ff00ff"/>
<circle cx="667.4" cy="1061.4" r="4.6" fill="#ff00ff"/>
<circle cx="728.3" cy="1046.6" r="4.6" fill="#ff00ff"/>
<circle cx="789.2" cy="1027.6" r="4.6" fill="#ff00ff"/>
<circle cx="850.1" cy="1001.0" r="4.6" fill="#ff00ff"/>
<circle cx="911.1" cy="957.3" r="4.6" fill="#ff00ff"/>
<circle cx="972.0" cy="684.6" r="4.6" fill="#ff00ff"/>
<text x="363.70" y="1152.00" font-size="31" text-anchor="middle">0</text>
<text x="485.06" y="1152.00" font-size="31" text-anchor="middle">0.2</text>
<text x="607.62" y="1152.00" font-size="31" text-anchor="middle">0.4</text>
<text x="730.48" y="1152.00" font-size="31" text-anchor="middle">0.6</text>
<text x="851.94" y="1152.00" font-size="31" text-anchor="middle">0.8</text>
<text x="974.20" y="1152.00" font-size="31" text-anchor="middle">1.0</text>
<text x="319.30" y="650.00" font-size="31">10<tspan dy="-10.69" font-size="17.67">2</tspan></text>
<text x="319.30" y="892.00" font-size="31">10<tspan dy="-10.69" font-size="17.67">1</tspan></text>
<text x="319.30" y="1132.50" font-size="31">10<tspan dy="-10.69" font-size="17.67">0</tspan></text>
<text x="476.50" y="622.70" font-size="31.0">Unlike charges <tspan dx="2.5">(</tspan><tspan font-style="italic">F</tspan><tspan dy="10.23" font-size="17.82">0</tspan><tspan dy="-10.23" word-spacing="-0.6"> = </tspan>−4.44nN<tspan dx="3.0"> )</tspan></text>
<text x="455.80" y="1184.00" font-size="31" word-spacing="0.5">Dimensionless shell thickness <tspan font-style="italic">t</tspan><tspan dy="10.23" font-size="17.82">1</tspan><tspan dy="-10.23">/</tspan><tspan font-style="italic">R</tspan><tspan dy="10.23" font-size="17.82">1</tspan></text>
<text x="0.00" y="0.00" font-size="31" text-anchor="middle" word-spacing="0.3" transform="translate(305.60 879.70) rotate(-90)">Dimensionless force <tspan font-style="italic">F</tspan><tspan dy="10.23" font-size="17.82">12</tspan><tspan dy="-10.23">/</tspan><tspan font-style="italic">F</tspan><tspan dy="10.23" font-size="17.82">0</tspan></text>
<text x="278.30" y="624.60" font-size="34.5" font-weight="bold">(e)</text>
<rect x="1090.3" y="40.1" width="609.20" height="481.70" fill="none" stroke="#1a1a1a" stroke-width="1.8"/>
<line x1="1212.14" y1="40.10" x2="1212.14" y2="46.10" stroke="#1a1a1a" stroke-width="1.3"/>
<line x1="1212.14" y1="521.80" x2="1212.14" y2="515.80" stroke="#1a1a1a" stroke-width="1.3"/>
<line x1="1333.98" y1="40.10" x2="1333.98" y2="46.10" stroke="#1a1a1a" stroke-width="1.3"/>
<line x1="1333.98" y1="521.80" x2="1333.98" y2="515.80" stroke="#1a1a1a" stroke-width="1.3"/>
<line x1="1455.82" y1="40.10" x2="1455.82" y2="46.10" stroke="#1a1a1a" stroke-width="1.3"/>
<line x1="1455.82" y1="521.80" x2="1455.82" y2="515.80" stroke="#1a1a1a" stroke-width="1.3"/>
<line x1="1577.66" y1="40.10" x2="1577.66" y2="46.10" stroke="#1a1a1a" stroke-width="1.3"/>
<line x1="1577.66" y1="521.80" x2="1577.66" y2="515.80" stroke="#1a1a1a" stroke-width="1.3"/>
<line x1="1090.30" y1="280.95" x2="1097.30" y2="280.95" stroke="#1a1a1a" stroke-width="1.3"/>
<line x1="1699.50" y1="280.95" x2="1692.50" y2="280.95" stroke="#1a1a1a" stroke-width="1.3"/>
<line x1="1090.30" y1="401.37" x2="1097.30" y2="401.37" stroke="#1a1a1a" stroke-width="1.3"/>
<line x1="1699.50" y1="401.37" x2="1692.50" y2="401.37" stroke="#1a1a1a" stroke-width="1.3"/>
<line x1="1090.30" y1="160.52" x2="1699.50" y2="160.52" stroke="#222" stroke-width="1.5" stroke-dasharray="18 16.55"/>
<rect x="1204.6" y="406.3" width="381.90" height="77.00" fill="#fff" stroke="#111" stroke-width="1.5"/>
<line x1="1217.50" y1="419.50" x2="1257.50" y2="419.50" stroke="#ff00ff" stroke-width="2.0"/>
<circle cx="1238.5" cy="435.8" r="3" fill="#ff00ff"/>
<text x="1271.00" y="431.90" font-size="24" word-spacing="0.6"><tspan font-style="italic">ε</tspan><tspan dy="7.92" font-size="13.80">c1</tspan><tspan dy="-7.92">/</tspan><tspan font-style="italic">ε</tspan><tspan dy="7.92" font-size="13.80">1</tspan><tspan dy="-7.92"> = 5.0</tspan></text>
<line x1="1217.50" y1="453.30" x2="1257.50" y2="453.30" stroke="#ff0000" stroke-width="2.0"/>
<circle cx="1238.5" cy="469.6" r="3" fill="#ff0000"/>
<text x="1271.00" y="465.70" font-size="24" word-spacing="0.6"><tspan font-style="italic">ε</tspan><tspan dy="7.92" font-size="13.80">c1</tspan><tspan dy="-7.92">/</tspan><tspan font-style="italic">ε</tspan><tspan dy="7.92" font-size="13.80">1</tspan><tspan dy="-7.92"> = 0.5</tspan></text>
<line x1="1394.50" y1="419.50" x2="1434.50" y2="419.50" stroke="#00cc00" stroke-width="2.0"/>
<circle cx="1415.5" cy="435.8" r="3" fill="#00cc00"/>
<text x="1448.00" y="431.90" font-size="24" word-spacing="0.6"><tspan font-style="italic">ε</tspan><tspan dy="7.92" font-size="13.80">c1</tspan><tspan dy="-7.92">/</tspan><tspan font-style="italic">ε</tspan><tspan dy="7.92" font-size="13.80">1</tspan><tspan dy="-7.92"> = 1.0</tspan></text>
<line x1="1394.50" y1="453.30" x2="1434.50" y2="453.30" stroke="#0000ff" stroke-width="2.0"/>
<circle cx="1415.5" cy="469.6" r="3" fill="#0000ff"/>
<text x="1450.50" y="465.70" font-size="23.8">Without shell</text>
<text x="1227.50" y="257.60" font-size="24" word-spacing="0.9"><tspan font-style="italic">ε</tspan><tspan dy="7.92" font-size="13.80">m</tspan><tspan dy="-7.92"> = </tspan><tspan font-style="italic">ε</tspan><tspan dy="7.92" font-size="13.80">0</tspan></text>
<text x="1339.50" y="257.60" font-size="24" word-spacing="0.5"><tspan font-style="italic">ε</tspan><tspan dy="7.92" font-size="13.80">1</tspan><tspan dy="-7.92"> = </tspan><tspan font-style="italic">ε</tspan><tspan dy="7.92" font-size="13.80">2</tspan><tspan dy="-7.92"> = 10</tspan><tspan font-style="italic">ε</tspan><tspan dy="7.92" font-size="13.80">0</tspan></text>
<text x="1511.00" y="257.60" font-size="24" word-spacing="0.9"><tspan font-style="italic">ε</tspan><tspan dy="7.92" font-size="13.80">c1</tspan><tspan dy="-7.92"> = </tspan><tspan font-style="italic">ε</tspan><tspan dy="7.92" font-size="13.80">c2</tspan></text>
<text x="1227.30" y="340.80" font-size="24" fill="#ff0000" word-spacing="0.4"><tspan font-style="italic">σ</tspan><tspan dy="7.92" font-size="13.80">1</tspan><tspan dy="-7.92"> = 0.1 mC/m</tspan><tspan dy="-8.28" font-size="13.68">2</tspan></text>
<text x="1446.00" y="340.80" font-size="24" fill="#ff0000" word-spacing="0.4"><tspan font-style="italic">σ</tspan><tspan dy="7.92" font-size="13.80">2</tspan><tspan dy="-7.92"> = 20 μC/m</tspan><tspan dy="-8.28" font-size="13.68">2</tspan></text>
<path d="M1140.5 82 L1155.8 108 L1147.8 108 L1147.8 139.3 L1133.2 139.3 L1133.2 108 L1125.2 108 Z" fill="#b3b3b3" stroke="#1a1a1a" stroke-width="1.3" stroke-linejoin="miter"/>
<path d="M1140.5 233.5 L1155.8 207.5 L1147.8 207.5 L1147.8 175.8 L1133.2 175.8 L1133.2 207.5 L1125.2 207.5 Z" fill="#b3b3b3" stroke="#1a1a1a" stroke-width="1.3" stroke-linejoin="miter"/>
<text x="1165.30" y="103.30" font-size="24">Repulsive</text>
<text x="1165.30" y="132.50" font-size="24">force</text>
<text x="1165.30" y="191.80" font-size="24">Attractive</text>
<text x="1165.30" y="221.00" font-size="24">force</text>
<line x1="1090.30" y1="148.40" x2="1699.50" y2="148.40" stroke="#ff9a1f" stroke-width="1.7"/>
<line x1="1090.30" y1="150.10" x2="1699.50" y2="150.10" stroke="#0000ff" stroke-width="3.6"/>
<circle cx="1090.3" cy="150.1" r="4.6" fill="#0000ff"/>
<circle cx="1151.2" cy="150.1" r="4.6" fill="#0000ff"/>
<circle cx="1212.1" cy="150.1" r="4.6" fill="#0000ff"/>
<circle cx="1273.1" cy="150.1" r="4.6" fill="#0000ff"/>
<circle cx="1334.0" cy="150.1" r="4.6" fill="#0000ff"/>
<circle cx="1394.9" cy="150.1" r="4.6" fill="#0000ff"/>
<circle cx="1455.8" cy="150.1" r="4.6" fill="#0000ff"/>
<circle cx="1516.7" cy="150.1" r="4.6" fill="#0000ff"/>
<circle cx="1577.7" cy="150.1" r="4.6" fill="#0000ff"/>
<circle cx="1638.6" cy="150.1" r="4.6" fill="#0000ff"/>
<circle cx="1699.5" cy="150.1" r="4.6" fill="#0000ff"/>
<path d="M1090.3,150.1 1094.7,150.1 1099.1,150.2 1103.4,150.2 1107.8,150.2 1112.2,150.3 1116.6,150.3 1121.0,150.3 1125.4,150.3 1129.7,150.4 1134.1,150.4 1138.5,150.4 1142.9,150.5 1147.3,150.5 1151.7,150.5 1156.0,150.5 1160.4,150.6 1164.8,150.6 1169.2,150.6 1173.6,150.7 1178.0,150.7 1182.3,150.7 1186.7,150.8 1191.1,150.8 1195.5,150.8 1199.9,150.9 1204.3,150.9 1208.6,150.9 1213.0,151.0 1217.4,151.0 1221.8,151.1 1226.2,151.1 1230.5,151.1 1234.9,151.2 1239.3,151.2 1243.7,151.3 1248.1,151.3 1252.5,151.3 1256.8,151.4 1261.2,151.4 1265.6,151.5 1270.0,151.5 1274.4,151.5 1278.8,151.6 1283.1,151.6 1287.5,151.7 1291.9,151.7 1296.3,151.8 1300.7,151.8 1305.1,151.9 1309.4,151.9 1313.8,152.0 1318.2,152.0 1322.6,152.1 1327.0,152.1 1331.4,152.2 1335.7,152.2 1340.1,152.3 1344.5,152.3 1348.9,152.4 1353.3,152.4 1357.6,152.5 1362.0,152.6 1366.4,152.6 1370.8,152.7 1375.2,152.7 1379.6,152.8 1383.9,152.9 1388.3,152.9 1392.7,153.0 1397.1,153.1 1401.5,153.1 1405.9,153.2 1410.2,153.3 1414.6,153.3 1419.0,153.4 1423.4,153.5 1427.8,153.5 1432.2,153.6 1436.5,153.7 1440.9,153.8 1445.3,153.9 1449.7,153.9 1454.1,154.0 1458.4,154.1 1462.8,154.2 1467.2,154.3 1471.6,154.4 1476.0,154.5 1480.4,154.6 1484.7,154.7 1489.1,154.8 1493.5,154.9 1497.9,155.0 1502.3,155.1 1506.7,155.2 1511.0,155.3 1515.4,155.4 1519.8,155.5 1524.2,155.6 1528.6,155.8 1533.0,155.9 1537.3,156.0 1541.7,156.2 1546.1,156.3 1550.5,156.4 1554.9,156.6 1559.3,156.7 1563.6,156.9 1568.0,157.0 1572.4,157.2 1576.8,157.4 1581.2,157.5 1585.5,157.7 1589.9,157.9 1594.3,158.1 1598.7,158.3 1603.1,158.5 1607.5,158.7 1611.8,159.0 1616.2,159.2 1620.6,159.5 1625.0,159.7 1629.4,160.0 1633.8,160.3 1638.1,160.6 1642.5,160.9 1645.3,161.1 1651.3,161.6 1655.7,162.0 1660.1,162.4 1664.4,162.9 1668.8,163.3 1672.6,163.8 1675.5,164.2 1678.2,164.5 1682.0,165.1 1684.5,165.4 1687.6,166.0 1690.1,166.4 1692.9,166.9 1695.3,167.4 1697.9,168.0 1699.5,168.4" fill="none" stroke="#ff0000" stroke-width="3.6" stroke-linejoin="round" stroke-linecap="butt"/>
<circle cx="1090.3" cy="150.1" r="4.6" fill="#ff0000"/>
<circle cx="1151.2" cy="150.5" r="4.6" fill="#ff0000"/>
<circle cx="1212.1" cy="151.0" r="4.6" fill="#ff0000"/>
<circle cx="1273.1" cy="151.6" r="4.6" fill="#ff0000"/>
<circle cx="1334.0" cy="152.2" r="4.6" fill="#ff0000"/>
<circle cx="1394.9" cy="153.0" r="4.6" fill="#ff0000"/>
<circle cx="1455.8" cy="153.8" r="4.6" fill="#ff0000"/>
<circle cx="1516.7" cy="155.7" r="4.6" fill="#ff0000"/>
<circle cx="1577.7" cy="157.4" r="4.6" fill="#ff0000"/>
<circle cx="1638.6" cy="160.6" r="4.6" fill="#ff0000"/>
<circle cx="1699.5" cy="168.4" r="4.6" fill="#ff0000"/>
<path d="M1090.3,150.1 1094.7,150.1 1099.1,150.2 1103.4,150.2 1107.8,150.2 1112.2,150.3 1116.6,150.3 1121.0,150.4 1125.4,150.4 1129.7,150.4 1134.1,150.5 1138.5,150.5 1142.9,150.6 1147.3,150.6 1151.7,150.6 1156.0,150.7 1160.4,150.7 1164.8,150.8 1169.2,150.8 1173.6,150.8 1178.0,150.9 1182.3,150.9 1186.7,151.0 1191.1,151.0 1195.5,151.1 1199.9,151.1 1204.3,151.1 1208.6,151.2 1213.0,151.2 1217.4,151.3 1221.8,151.3 1226.2,151.4 1230.5,151.4 1234.9,151.5 1239.3,151.5 1243.7,151.6 1248.1,151.6 1252.5,151.7 1256.8,151.7 1261.2,151.8 1265.6,151.8 1270.0,151.9 1274.4,151.9 1278.8,152.0 1283.1,152.0 1287.5,152.1 1291.9,152.2 1296.3,152.2 1300.7,152.3 1305.1,152.3 1309.4,152.4 1313.8,152.5 1318.2,152.5 1322.6,152.6 1327.0,152.6 1331.4,152.7 1335.7,152.8 1340.1,152.8 1344.5,152.9 1348.9,153.0 1353.3,153.0 1357.6,153.1 1362.0,153.2 1366.4,153.3 1370.8,153.3 1375.2,153.4 1379.6,153.5 1383.9,153.6 1388.3,153.6 1392.7,153.7 1397.1,153.8 1401.5,153.9 1405.9,154.0 1410.2,154.1 1414.6,154.1 1419.0,154.2 1423.4,154.3 1427.8,154.4 1432.2,154.5 1436.5,154.6 1440.9,154.7 1445.3,154.8 1449.7,154.9 1454.1,155.0 1458.4,155.1 1462.8,155.2 1467.2,155.4 1471.6,155.5 1476.0,155.6 1480.4,155.7 1484.7,155.9 1489.1,156.0 1493.5,156.1 1497.9,156.3 1502.3,156.4 1506.7,156.5 1511.0,156.7 1515.4,156.8 1519.8,157.0 1524.2,157.2 1528.6,157.3 1533.0,157.5 1537.3,157.7 1541.7,157.9 1546.1,158.1 1550.5,158.3 1554.9,158.5 1559.3,158.7 1563.6,159.0 1568.0,159.2 1572.4,159.4 1576.8,159.7 1581.2,160.0 1585.5,160.3 1589.9,160.5 1594.3,160.9 1598.7,161.2 1603.1,161.5 1607.5,161.9 1611.8,162.3 1616.2,162.7 1620.6,163.2 1625.0,163.6 1629.4,164.1 1633.8,164.7 1638.1,165.3 1642.5,165.9 1645.3,166.3 1651.3,167.3 1655.7,168.2 1660.1,169.1 1664.4,170.1 1668.8,171.3 1672.6,172.5 1675.5,173.5 1678.2,174.4 1680.5,175.4 1684.5,177.2 1687.6,179.0 1690.1,180.5 1692.9,182.5 1694.8,184.2 1696.9,186.2 1698.6,188.1 1699.5,189.2" fill="none" stroke="#00cc00" stroke-width="3.6" stroke-linejoin="round" stroke-linecap="butt"/>
<circle cx="1090.3" cy="150.1" r="4.6" fill="#00cc00"/>
<circle cx="1151.2" cy="150.6" r="4.6" fill="#00cc00"/>
<circle cx="1212.1" cy="151.2" r="4.6" fill="#00cc00"/>
<circle cx="1273.1" cy="152.0" r="4.6" fill="#00cc00"/>
<circle cx="1334.0" cy="152.8" r="4.6" fill="#00cc00"/>
<circle cx="1394.9" cy="153.8" r="4.6" fill="#00cc00"/>
<circle cx="1455.8" cy="154.8" r="4.6" fill="#00cc00"/>
<circle cx="1516.7" cy="157.0" r="4.6" fill="#00cc00"/>
<circle cx="1577.7" cy="159.8" r="4.6" fill="#00cc00"/>
<circle cx="1638.6" cy="165.4" r="4.6" fill="#00cc00"/>
<circle cx="1699.5" cy="189.2" r="4.6" fill="#00cc00"/>
<path d="M1090.3,150.0 1094.7,150.1 1099.1,150.1 1103.4,150.2 1107.8,150.3 1112.2,150.3 1116.6,150.4 1121.0,150.5 1125.4,150.5 1129.7,150.6 1134.1,150.7 1138.5,150.7 1142.9,150.8 1147.3,150.9 1151.7,150.9 1156.0,151.0 1160.4,151.1 1164.8,151.1 1169.2,151.2 1173.6,151.3 1178.0,151.3 1182.3,151.4 1186.7,151.5 1191.1,151.5 1195.5,151.6 1199.9,151.7 1204.3,151.8 1208.6,151.8 1213.0,151.9 1217.4,152.0 1221.8,152.0 1226.2,152.1 1230.5,152.2 1234.9,152.3 1239.3,152.3 1243.7,152.4 1248.1,152.5 1252.5,152.6 1256.8,152.7 1261.2,152.7 1265.6,152.8 1270.0,152.9 1274.4,153.0 1278.8,153.1 1283.1,153.1 1287.5,153.2 1291.9,153.3 1296.3,153.4 1300.7,153.5 1305.1,153.6 1309.4,153.7 1313.8,153.8 1318.2,153.9 1322.6,153.9 1327.0,154.0 1331.4,154.1 1335.7,154.2 1340.1,154.3 1344.5,154.4 1348.9,154.5 1353.3,154.6 1357.6,154.7 1362.0,154.8 1366.4,154.9 1370.8,155.1 1375.2,155.2 1379.6,155.3 1383.9,155.4 1388.3,155.5 1392.7,155.6 1397.1,155.7 1401.5,155.9 1405.9,156.0 1410.2,156.1 1414.6,156.2 1419.0,156.4 1423.4,156.5 1427.8,156.6 1432.2,156.8 1436.5,156.9 1440.9,157.1 1445.3,157.2 1449.7,157.4 1454.1,157.5 1458.4,157.7 1462.8,157.9 1467.2,158.0 1471.6,158.2 1476.0,158.4 1480.4,158.6 1484.7,158.8 1489.1,159.0 1493.5,159.1 1497.9,159.4 1502.3,159.6 1506.7,159.8 1511.0,160.0 1515.4,160.2 1519.8,160.5 1524.2,160.7 1528.6,161.0 1533.0,161.3 1537.3,161.5 1541.7,161.8 1546.1,162.1 1550.5,162.5 1554.9,162.8 1559.3,163.1 1563.6,163.5 1568.0,163.9 1572.4,164.3 1576.8,164.7 1581.2,165.1 1585.5,165.6 1589.9,166.1 1594.3,166.6 1598.7,167.1 1603.1,167.7 1607.5,168.4 1611.8,169.0 1616.2,169.7 1620.6,170.5 1625.0,171.4 1629.4,172.3 1633.8,173.3 1638.1,174.4 1642.5,175.7 1645.3,176.5 1651.3,178.6 1655.7,180.4 1660.1,182.5 1664.4,184.9 1668.8,187.8 1672.6,190.9 1675.5,193.7 1677.6,196.0 1680.5,199.9 1682.0,202.2 1684.5,206.7 1686.1,210.4 1687.6,214.2 1688.9,218.3 1690.1,222.5 1690.7,225.3 1692.0,231.6 1692.9,236.5 1693.6,241.5 1694.2,246.8 1694.8,252.3 1695.1,255.5 1695.8,263.9 1696.2,270.0 1696.6,276.4 1696.9,282.9 1697.2,289.6 1697.4,296.5 1697.7,303.5 1697.9,310.6 1698.0,317.9 1698.2,325.3 1698.3,332.7 1698.5,340.1 1698.6,347.6 1698.7,355.0 1698.8,362.3 1698.9,369.6 1698.9,376.7 1699.0,383.6 1699.0,390.3 1699.1,396.9 1699.1,403.1 1699.2,409.1 1699.2,414.9 1699.2,420.3 1699.3,425.4 1699.3,430.2 1699.3,434.7 1699.3,438.9 1699.4,442.8 1699.4,446.4 1699.4,449.8 1699.4,452.8 1699.4,455.6 1699.4,458.2 1699.4,462.6 1699.5,466.3 1699.5,469.3 1699.5,472.8 1699.5,475.3 1699.5,478.0 1699.5,481.6" fill="none" stroke="#ff00ff" stroke-width="3.6" stroke-linejoin="round" stroke-linecap="butt"/>
<circle cx="1090.3" cy="150.1" r="4.6" fill="#ff00ff"/>
<circle cx="1151.2" cy="150.9" r="4.6" fill="#ff00ff"/>
<circle cx="1212.1" cy="151.8" r="4.6" fill="#ff00ff"/>
<circle cx="1273.1" cy="152.9" r="4.6" fill="#ff00ff"/>
<circle cx="1334.0" cy="154.2" r="4.6" fill="#ff00ff"/>
<circle cx="1394.9" cy="155.5" r="4.6" fill="#ff00ff"/>
<circle cx="1455.8" cy="157.9" r="4.6" fill="#ff00ff"/>
<circle cx="1516.7" cy="160.4" r="4.6" fill="#ff00ff"/>
<circle cx="1577.7" cy="164.8" r="4.6" fill="#ff00ff"/>
<circle cx="1638.6" cy="174.0" r="4.6" fill="#ff00ff"/>
<circle cx="1699.5" cy="481.6" r="4.6" fill="#ff00ff"/>
<line x1="1585" y1="108.5" x2="1555" y2="138" stroke="#ff9a1f" stroke-width="1.6"/>
<path d="M1548.6 147.2 L1553.6 132.8 L1564.4 142.4 Z" fill="#ff9a1f"/>
<text x="1595.80" y="112.80" font-size="24" fill="#ff9a1f" word-spacing="0.1"><tspan font-style="italic">F</tspan><tspan dy="7.92" font-size="13.80">12</tspan><tspan dy="-7.92">/</tspan><tspan font-style="italic">F</tspan><tspan dy="7.92" font-size="13.80">0</tspan><tspan dy="-7.92"> = 1</tspan></text>
<text x="1086.90" y="552.50" font-size="31" text-anchor="middle">0</text>
<text x="1209.74" y="552.50" font-size="31" text-anchor="middle">0.2</text>
<text x="1331.48" y="552.50" font-size="31" text-anchor="middle">0.4</text>
<text x="1453.82" y="552.50" font-size="31" text-anchor="middle">0.6</text>
<text x="1575.96" y="552.50" font-size="31" text-anchor="middle">0.8</text>
<text x="1699.50" y="552.50" font-size="31" text-anchor="middle">1.0</text>
<text x="1079.50" y="52.40" font-size="31" text-anchor="end">10</text>
<text x="1080.30" y="171.50" font-size="31" text-anchor="end">0</text>
<text x="1080.30" y="290.30" font-size="31" text-anchor="end">−10</text>
<text x="1079.30" y="409.80" font-size="31" text-anchor="end">−20</text>
<text x="1079.30" y="530.30" font-size="31" text-anchor="end">−30</text>
<text x="1225.20" y="23.50" font-size="31.0">Like charges <tspan dx="1.9">(</tspan><tspan font-style="italic">F</tspan><tspan dy="10.23" font-size="17.82">0</tspan><tspan dy="-10.23" word-spacing="-0.6"> = </tspan><tspan dx="1.5">4.44nN</tspan><tspan dx="1.5"> )</tspan></text>
<text x="1151.00" y="584.50" font-size="31" word-spacing="0.5">Dimensionless shell thickness <tspan font-style="italic">t</tspan><tspan dy="10.23" font-size="17.82">1</tspan><tspan dy="-10.23">/</tspan><tspan font-style="italic">R</tspan><tspan dy="10.23" font-size="17.82">1</tspan></text>
<text x="0.00" y="0.00" font-size="31" text-anchor="middle" word-spacing="0.3" transform="translate(1016.50 281.20) rotate(-90)">Dimensionless force <tspan font-style="italic">F</tspan><tspan dy="10.23" font-size="17.82">12</tspan><tspan dy="-10.23">/</tspan><tspan font-style="italic">F</tspan><tspan dy="10.23" font-size="17.82">0</tspan></text>
<text x="996.20" y="24.80" font-size="34.5" font-weight="bold">(c)</text>
<rect x="1090.3" y="640.9" width="609.90" height="480.10" fill="none" stroke="#1a1a1a" stroke-width="1.8"/>
<line x1="1212.28" y1="640.90" x2="1212.28" y2="646.90" stroke="#1a1a1a" stroke-width="1.3"/>
<line x1="1212.28" y1="1121.00" x2="1212.28" y2="1115.00" stroke="#1a1a1a" stroke-width="1.3"/>
<line x1="1334.26" y1="640.90" x2="1334.26" y2="646.90" stroke="#1a1a1a" stroke-width="1.3"/>
<line x1="1334.26" y1="1121.00" x2="1334.26" y2="1115.00" stroke="#1a1a1a" stroke-width="1.3"/>
<line x1="1456.24" y1="640.90" x2="1456.24" y2="646.90" stroke="#1a1a1a" stroke-width="1.3"/>
<line x1="1456.24" y1="1121.00" x2="1456.24" y2="1115.00" stroke="#1a1a1a" stroke-width="1.3"/>
<line x1="1578.22" y1="640.90" x2="1578.22" y2="646.90" stroke="#1a1a1a" stroke-width="1.3"/>
<line x1="1578.22" y1="1121.00" x2="1578.22" y2="1115.00" stroke="#1a1a1a" stroke-width="1.3"/>
<line x1="1090.30" y1="880.95" x2="1097.30" y2="880.95" stroke="#1a1a1a" stroke-width="1.3"/>
<line x1="1700.20" y1="880.95" x2="1693.20" y2="880.95" stroke="#1a1a1a" stroke-width="1.3"/>
<line x1="1090.30" y1="1000.97" x2="1097.30" y2="1000.97" stroke="#1a1a1a" stroke-width="1.3"/>
<line x1="1700.20" y1="1000.97" x2="1693.20" y2="1000.97" stroke="#1a1a1a" stroke-width="1.3"/>
<line x1="1090.30" y1="760.92" x2="1700.20" y2="760.92" stroke="#222" stroke-width="1.5" stroke-dasharray="18 16.55"/>
<rect x="1211.8" y="1007" width="372.40" height="76.80" fill="#fff" stroke="#111" stroke-width="1.5"/>
<line x1="1225.00" y1="1020.20" x2="1265.00" y2="1020.20" stroke="#ff00ff" stroke-width="2.0"/>
<circle cx="1246.0" cy="1036.5" r="3" fill="#ff00ff"/>
<text x="1278.50" y="1032.60" font-size="24" word-spacing="1.2"><tspan font-style="italic">ε</tspan><tspan dy="7.92" font-size="13.80">c1</tspan><tspan dy="-7.92"> = 50</tspan><tspan font-style="italic">ε</tspan><tspan dy="7.92" font-size="13.80">0</tspan></text>
<line x1="1225.00" y1="1054.20" x2="1265.00" y2="1054.20" stroke="#ff0000" stroke-width="2.0"/>
<circle cx="1246.0" cy="1070.5" r="3" fill="#ff0000"/>
<text x="1278.50" y="1066.60" font-size="24" word-spacing="1.2"><tspan font-style="italic">ε</tspan><tspan dy="7.92" font-size="13.80">c1</tspan><tspan dy="-7.92"> = 5</tspan><tspan font-style="italic">ε</tspan><tspan dy="7.92" font-size="13.80">0</tspan></text>
<line x1="1392.00" y1="1020.20" x2="1432.00" y2="1020.20" stroke="#00cc00" stroke-width="2.0"/>
<circle cx="1413.0" cy="1036.5" r="3" fill="#00cc00"/>
<text x="1446.00" y="1032.60" font-size="24" word-spacing="1.2"><tspan font-style="italic">ε</tspan><tspan dy="7.92" font-size="13.80">c1</tspan><tspan dy="-7.92"> = 10</tspan><tspan font-style="italic">ε</tspan><tspan dy="7.92" font-size="13.80">0</tspan></text>
<line x1="1392.00" y1="1054.20" x2="1432.00" y2="1054.20" stroke="#0000ff" stroke-width="2.0"/>
<circle cx="1413.0" cy="1070.5" r="3" fill="#0000ff"/>
<text x="1448.00" y="1066.60" font-size="23.8">Without shell</text>
<text x="1232.00" y="856.00" font-size="24" word-spacing="0.9"><tspan font-style="italic">ε</tspan><tspan dy="7.92" font-size="13.80">m</tspan><tspan dy="-7.92"> = </tspan><tspan font-style="italic">ε</tspan><tspan dy="7.92" font-size="13.80">0</tspan></text>
<text x="1412.00" y="856.00" font-size="24" word-spacing="0.9"><tspan font-style="italic">ε</tspan><tspan dy="7.92" font-size="13.80">c1</tspan><tspan dy="-7.92"> = </tspan><tspan font-style="italic">ε</tspan><tspan dy="7.92" font-size="13.80">c2</tspan></text>
<text x="1235.50" y="941.00" font-size="24" fill="#ff0000" word-spacing="1.5"><tspan font-style="italic">q</tspan><tspan dy="7.92" font-size="13.80">1</tspan><tspan dy="-7.92"> = 2×10</tspan><tspan dy="-8.28" font-size="13.68">5</tspan><tspan dy="8.28" font-style="italic">e</tspan></text>
<text x="1426.00" y="941.00" font-size="24" fill="#ff0000" word-spacing="1.5"><tspan font-style="italic">q</tspan><tspan dy="7.92" font-size="13.80">2</tspan><tspan dy="-7.92"> = 4×10</tspan><tspan dy="-8.28" font-size="13.68">4</tspan><tspan dy="8.28" font-style="italic">e</tspan></text>
<path d="M1131 679.8 L1146.3 705.8 L1138.3 705.8 L1138.3 737.9 L1123.7 737.9 L1123.7 705.8 L1115.7 705.8 Z" fill="#b3b3b3" stroke="#1a1a1a" stroke-width="1.3" stroke-linejoin="miter"/>
<path d="M1131 832.2 L1146.3 806.2 L1138.3 806.2 L1138.3 773.3 L1123.7 773.3 L1123.7 806.2 L1115.7 806.2 Z" fill="#b3b3b3" stroke="#1a1a1a" stroke-width="1.3" stroke-linejoin="miter"/>
<text x="1156.30" y="701.00" font-size="24">Repulsive</text>
<text x="1156.30" y="730.30" font-size="24">force</text>
<text x="1156.30" y="790.00" font-size="24">Attractive</text>
<text x="1156.30" y="819.30" font-size="24">force</text>
<line x1="1090.30" y1="748.60" x2="1700.20" y2="748.60" stroke="#ff9a1f" stroke-width="1.7"/>
<line x1="1090.30" y1="751.30" x2="1700.20" y2="751.30" stroke="#0072bd" stroke-width="3.6"/>
<circle cx="1090.3" cy="751.3" r="4.6" fill="#0000ff"/>
<circle cx="1151.3" cy="751.3" r="4.6" fill="#0000ff"/>
<circle cx="1212.3" cy="751.3" r="4.6" fill="#0000ff"/>
<circle cx="1273.3" cy="751.3" r="4.6" fill="#0000ff"/>
<circle cx="1334.3" cy="751.3" r="4.6" fill="#0000ff"/>
<circle cx="1395.2" cy="751.3" r="4.6" fill="#0000ff"/>
<circle cx="1456.2" cy="751.3" r="4.6" fill="#0000ff"/>
<circle cx="1517.2" cy="751.3" r="4.6" fill="#0000ff"/>
<circle cx="1578.2" cy="751.3" r="4.6" fill="#0000ff"/>
<circle cx="1639.2" cy="751.3" r="4.6" fill="#0000ff"/>
<circle cx="1700.2" cy="751.3" r="4.6" fill="#0000ff"/>
<path d="M1090.3,750.9 1094.7,750.9 1099.1,751.0 1103.5,751.0 1107.9,751.1 1112.2,751.1 1116.6,751.1 1121.0,751.2 1125.4,751.2 1129.8,751.3 1134.2,751.3 1138.6,751.3 1143.0,751.4 1147.3,751.4 1151.7,751.4 1156.1,751.5 1160.5,751.5 1164.9,751.5 1169.3,751.6 1173.7,751.6 1178.1,751.7 1182.4,751.7 1186.8,751.7 1191.2,751.8 1195.6,751.8 1200.0,751.8 1204.4,751.9 1208.8,751.9 1213.2,751.9 1217.5,752.0 1221.9,752.0 1226.3,752.0 1230.7,752.1 1235.1,752.1 1239.5,752.1 1243.9,752.2 1248.3,752.2 1252.6,752.3 1257.0,752.3 1261.4,752.3 1265.8,752.4 1270.2,752.4 1274.6,752.4 1279.0,752.5 1283.4,752.5 1287.7,752.5 1292.1,752.6 1296.5,752.6 1300.9,752.7 1305.3,752.7 1309.7,752.7 1314.1,752.8 1318.5,752.8 1322.9,752.9 1327.2,752.9 1331.6,752.9 1336.0,753.0 1340.4,753.0 1344.8,753.1 1349.2,753.1 1353.6,753.2 1358.0,753.2 1362.3,753.3 1366.7,753.3 1371.1,753.4 1375.5,753.4 1379.9,753.5 1384.3,753.5 1388.7,753.6 1393.1,753.6 1397.4,753.7 1401.8,753.8 1406.2,753.8 1410.6,753.9 1415.0,754.0 1419.4,754.0 1423.8,754.1 1428.2,754.2 1432.5,754.2 1436.9,754.3 1441.3,754.4 1445.7,754.5 1450.1,754.5 1454.5,754.6 1458.9,754.7 1463.3,754.8 1467.6,754.9 1472.0,755.0 1476.4,755.1 1480.8,755.2 1485.2,755.3 1489.6,755.4 1494.0,755.5 1498.4,755.6 1502.8,755.7 1507.1,755.8 1511.5,756.0 1515.9,756.1 1520.3,756.2 1524.7,756.4 1529.1,756.5 1533.5,756.6 1537.9,756.8 1542.2,756.9 1546.6,757.1 1551.0,757.3 1555.4,757.5 1559.8,757.6 1564.2,757.8 1568.6,758.0 1573.0,758.2 1577.3,758.4 1581.7,758.7 1586.1,758.9 1590.5,759.1 1594.9,759.4 1599.3,759.6 1603.7,759.9 1608.1,760.2 1612.4,760.5 1616.8,760.8 1621.2,761.1 1625.6,761.4 1630.0,761.8 1634.4,762.2 1638.8,762.6 1643.2,763.0 1645.9,763.2 1651.9,763.8 1656.3,764.3 1660.7,764.8 1665.1,765.4 1669.5,765.9 1673.2,766.4 1676.2,766.8 1678.8,767.2 1682.6,767.8 1685.1,768.2 1688.3,768.7 1690.8,769.2 1693.5,769.7 1696.0,770.2 1698.6,770.7 1700.2,771.0" fill="none" stroke="#d95319" stroke-width="3.6" stroke-linejoin="round" stroke-linecap="butt"/>
<circle cx="1090.3" cy="750.9" r="4.6" fill="#ff0000"/>
<circle cx="1151.3" cy="751.4" r="4.6" fill="#ff0000"/>
<circle cx="1212.3" cy="751.9" r="4.6" fill="#ff0000"/>
<circle cx="1273.3" cy="752.5" r="4.6" fill="#ff0000"/>
<circle cx="1334.3" cy="753.1" r="4.6" fill="#ff0000"/>
<circle cx="1395.2" cy="753.7" r="4.6" fill="#ff0000"/>
<circle cx="1456.2" cy="754.3" r="4.6" fill="#ff0000"/>
<circle cx="1517.2" cy="756.1" r="4.6" fill="#ff0000"/>
<circle cx="1578.2" cy="758.9" r="4.6" fill="#ff0000"/>
<circle cx="1639.2" cy="762.3" r="4.6" fill="#ff0000"/>
<circle cx="1700.2" cy="771.0" r="4.6" fill="#ff0000"/>
<path d="M1090.3,751.0 1094.7,751.0 1099.1,751.0 1103.5,751.1 1107.9,751.1 1112.2,751.1 1116.6,751.2 1121.0,751.2 1125.4,751.3 1129.8,751.3 1134.2,751.3 1138.6,751.4 1143.0,751.4 1147.3,751.5 1151.7,751.5 1156.1,751.5 1160.5,751.6 1164.9,751.6 1169.3,751.7 1173.7,751.7 1178.1,751.7 1182.4,751.8 1186.8,751.8 1191.2,751.9 1195.6,751.9 1200.0,752.0 1204.4,752.0 1208.8,752.0 1213.2,752.1 1217.5,752.1 1221.9,752.2 1226.3,752.2 1230.7,752.3 1235.1,752.3 1239.5,752.4 1243.9,752.4 1248.3,752.5 1252.6,752.5 1257.0,752.6 1261.4,752.6 1265.8,752.7 1270.2,752.7 1274.6,752.8 1279.0,752.9 1283.4,752.9 1287.7,753.0 1292.1,753.0 1296.5,753.1 1300.9,753.1 1305.3,753.2 1309.7,753.3 1314.1,753.3 1318.5,753.4 1322.9,753.5 1327.2,753.5 1331.6,753.6 1336.0,753.7 1340.4,753.7 1344.8,753.8 1349.2,753.9 1353.6,753.9 1358.0,754.0 1362.3,754.1 1366.7,754.2 1371.1,754.2 1375.5,754.3 1379.9,754.4 1384.3,754.5 1388.7,754.6 1393.1,754.7 1397.4,754.7 1401.8,754.8 1406.2,754.9 1410.6,755.0 1415.0,755.1 1419.4,755.2 1423.8,755.3 1428.2,755.4 1432.5,755.5 1436.9,755.6 1441.3,755.7 1445.7,755.9 1450.1,756.0 1454.5,756.1 1458.9,756.2 1463.3,756.3 1467.6,756.5 1472.0,756.6 1476.4,756.7 1480.8,756.9 1485.2,757.0 1489.6,757.2 1494.0,757.3 1498.4,757.5 1502.8,757.6 1507.1,757.8 1511.5,758.0 1515.9,758.1 1520.3,758.3 1524.7,758.5 1529.1,758.7 1533.5,758.9 1537.9,759.1 1542.2,759.3 1546.6,759.5 1551.0,759.8 1555.4,760.0 1559.8,760.3 1564.2,760.5 1568.6,760.8 1573.0,761.1 1577.3,761.4 1581.7,761.7 1586.1,762.0 1590.5,762.3 1594.9,762.7 1599.3,763.1 1603.7,763.4 1608.1,763.9 1612.4,764.3 1616.8,764.8 1621.2,765.3 1625.6,765.8 1630.0,766.3 1634.4,767.0 1638.8,767.6 1643.2,768.3 1645.9,768.8 1651.9,769.9 1656.3,770.8 1660.7,771.8 1665.1,772.9 1669.5,774.2 1673.2,775.4 1676.2,776.5 1678.8,777.6 1681.2,778.6 1685.1,780.6 1688.3,782.4 1690.8,784.1 1693.5,786.3 1695.5,788.2 1697.3,790.1 1698.9,792.1 1700.2,794.0" fill="none" stroke="#00cc00" stroke-width="3.6" stroke-linejoin="round" stroke-linecap="butt"/>
<circle cx="1090.3" cy="750.9" r="4.6" fill="#00cc00"/>
<circle cx="1151.3" cy="751.5" r="4.6" fill="#00cc00"/>
<circle cx="1212.3" cy="752.1" r="4.6" fill="#00cc00"/>
<circle cx="1273.3" cy="752.9" r="4.6" fill="#00cc00"/>
<circle cx="1334.3" cy="753.7" r="4.6" fill="#00cc00"/>
<circle cx="1395.2" cy="754.7" r="4.6" fill="#00cc00"/>
<circle cx="1456.2" cy="755.7" r="4.6" fill="#00cc00"/>
<circle cx="1517.2" cy="758.3" r="4.6" fill="#00cc00"/>
<circle cx="1578.2" cy="761.7" r="4.6" fill="#00cc00"/>
<circle cx="1639.2" cy="767.6" r="4.6" fill="#00cc00"/>
<circle cx="1700.2" cy="794.0" r="4.6" fill="#00cc00"/>
<path d="M1090.3,750.8 1094.7,750.9 1099.1,751.0 1103.5,751.0 1107.9,751.1 1112.2,751.2 1116.6,751.2 1121.0,751.3 1125.4,751.4 1129.8,751.4 1134.2,751.5 1138.6,751.6 1143.0,751.7 1147.3,751.7 1151.7,751.8 1156.1,751.9 1160.5,751.9 1164.9,752.0 1169.3,752.1 1173.7,752.1 1178.1,752.2 1182.4,752.3 1186.8,752.4 1191.2,752.4 1195.6,752.5 1200.0,752.6 1204.4,752.6 1208.8,752.7 1213.2,752.8 1217.5,752.9 1221.9,752.9 1226.3,753.0 1230.7,753.1 1235.1,753.2 1239.5,753.2 1243.9,753.3 1248.3,753.4 1252.6,753.5 1257.0,753.6 1261.4,753.6 1265.8,753.7 1270.2,753.8 1274.6,753.9 1279.0,754.0 1283.4,754.0 1287.7,754.1 1292.1,754.2 1296.5,754.3 1300.9,754.4 1305.3,754.5 1309.7,754.6 1314.1,754.7 1318.5,754.7 1322.9,754.8 1327.2,754.9 1331.6,755.0 1336.0,755.1 1340.4,755.2 1344.8,755.3 1349.2,755.4 1353.6,755.5 1358.0,755.6 1362.3,755.7 1366.7,755.8 1371.1,755.9 1375.5,756.0 1379.9,756.1 1384.3,756.3 1388.7,756.4 1393.1,756.5 1397.4,756.6 1401.8,756.7 1406.2,756.8 1410.6,757.0 1415.0,757.1 1419.4,757.2 1423.8,757.4 1428.2,757.5 1432.5,757.6 1436.9,757.8 1441.3,757.9 1445.7,758.1 1450.1,758.2 1454.5,758.4 1458.9,758.5 1463.3,758.7 1467.6,758.8 1472.0,759.0 1476.4,759.2 1480.8,759.4 1485.2,759.6 1489.6,759.7 1494.0,759.9 1498.4,760.1 1502.8,760.4 1507.1,760.6 1511.5,760.8 1515.9,761.0 1520.3,761.3 1524.7,761.5 1529.1,761.8 1533.5,762.0 1537.9,762.3 1542.2,762.6 1546.6,762.9 1551.0,763.2 1555.4,763.5 1559.8,763.9 1564.2,764.2 1568.6,764.6 1573.0,765.0 1577.3,765.4 1581.7,765.9 1586.1,766.4 1590.5,766.9 1594.9,767.4 1599.3,768.0 1603.7,768.6 1608.1,769.2 1612.4,769.9 1616.8,770.7 1621.2,771.5 1625.6,772.4 1630.0,773.4 1634.4,774.5 1638.8,775.7 1643.2,777.0 1645.9,777.9 1651.9,780.2 1656.3,782.2 1660.7,784.6 1665.1,787.3 1669.5,790.7 1673.2,794.2 1676.2,797.5 1678.3,800.2 1681.2,804.8 1682.6,807.6 1685.1,813.1 1686.8,817.6 1688.3,822.4 1689.6,827.4 1690.8,832.7 1691.4,836.2 1692.7,844.2 1693.5,850.3 1694.3,856.7 1694.9,863.5 1695.5,870.4 1695.8,874.6 1696.0,877.7 1696.5,885.2 1696.9,892.9 1697.3,900.9 1697.6,909.0 1697.9,917.3 1698.1,925.8 1698.4,934.3 1698.6,942.8 1698.7,951.4 1698.9,959.9 1699.0,968.4 1699.2,976.7 1699.3,984.8 1699.4,992.8 1699.5,1000.5 1699.6,1007.9 1699.6,1015.1 1699.7,1021.9 1699.7,1028.4 1699.8,1034.5 1699.8,1040.2 1699.9,1045.6 1699.9,1050.6 1699.9,1055.3 1700.0,1059.6 1700.0,1063.6 1700.0,1067.3 1700.0,1070.6 1700.1,1073.7 1700.1,1076.5 1700.1,1079.1 1700.1,1083.5 1700.1,1087.1 1700.1,1090.0 1700.2,1093.4 1700.2,1096.4 1700.2,1099.1 1700.2,1101.8" fill="none" stroke="#ff00ff" stroke-width="3.6" stroke-linejoin="round" stroke-linecap="butt"/>
<circle cx="1090.3" cy="750.9" r="4.6" fill="#ff00ff"/>
<circle cx="1151.3" cy="751.8" r="4.6" fill="#ff00ff"/>
<circle cx="1212.3" cy="752.7" r="4.6" fill="#ff00ff"/>
<circle cx="1273.3" cy="753.8" r="4.6" fill="#ff00ff"/>
<circle cx="1334.3" cy="755.0" r="4.6" fill="#ff00ff"/>
<circle cx="1395.2" cy="756.6" r="4.6" fill="#ff00ff"/>
<circle cx="1456.2" cy="758.5" r="4.6" fill="#ff00ff"/>
<circle cx="1517.2" cy="761.1" r="4.6" fill="#ff00ff"/>
<circle cx="1578.2" cy="765.8" r="4.6" fill="#ff00ff"/>
<circle cx="1639.2" cy="775.2" r="4.6" fill="#ff00ff"/>
<circle cx="1700.2" cy="1101.8" r="4.6" fill="#ff00ff"/>
<line x1="1585" y1="709" x2="1555" y2="738.5" stroke="#ff9a1f" stroke-width="1.6"/>
<path d="M1548.6 747.4 L1553.6 733.0 L1564.4 742.6 Z" fill="#ff9a1f"/>
<text x="1595.80" y="713.00" font-size="24" fill="#ff9a1f" word-spacing="0.1"><tspan font-style="italic">F</tspan><tspan dy="7.92" font-size="13.80">12</tspan><tspan dy="-7.92">/</tspan><tspan font-style="italic">F</tspan><tspan dy="7.92" font-size="13.80">0</tspan><tspan dy="-7.92"> = 1</tspan></text>
<text x="1086.80" y="1152.50" font-size="31" text-anchor="middle">0</text>
<text x="1209.98" y="1152.50" font-size="31" text-anchor="middle">0.2</text>
<text x="1331.76" y="1152.50" font-size="31" text-anchor="middle">0.4</text>
<text x="1454.24" y="1152.50" font-size="31" text-anchor="middle">0.6</text>
<text x="1576.22" y="1152.50" font-size="31" text-anchor="middle">0.8</text>
<text x="1700.20" y="1152.50" font-size="31" text-anchor="middle">1.0</text>
<text x="1081.30" y="654.60" font-size="31" text-anchor="end">10</text>
<text x="1079.30" y="770.40" font-size="31" text-anchor="end">0</text>
<text x="1080.30" y="892.90" font-size="31" text-anchor="end">−10</text>
<text x="1079.60" y="1012.10" font-size="31" text-anchor="end">−20</text>
<text x="1079.60" y="1131.00" font-size="31" text-anchor="end">−30</text>
<text x="1225.20" y="623.00" font-size="31.0">Like charges <tspan dx="1.9">(</tspan><tspan font-style="italic">F</tspan><tspan dy="10.23" font-size="17.82">0</tspan><tspan dy="-10.23" word-spacing="-0.6"> = </tspan><tspan dx="1.5">4.44nN</tspan><tspan dx="1.5"> )</tspan></text>
<text x="1176.80" y="1184.00" font-size="31" word-spacing="0.5">Dimensionless shell thickness <tspan font-style="italic">t</tspan><tspan dy="10.23" font-size="17.82">1</tspan><tspan dy="-10.23">/</tspan><tspan font-style="italic">R</tspan><tspan dy="10.23" font-size="17.82">1</tspan></text>
<text x="0.00" y="0.00" font-size="31" text-anchor="middle" word-spacing="0.3" transform="translate(1016.50 882.50) rotate(-90)">Dimensionless force <tspan font-style="italic">F</tspan><tspan dy="10.23" font-size="17.82">12</tspan><tspan dy="-10.23">/</tspan><tspan font-style="italic">F</tspan><tspan dy="10.23" font-size="17.82">0</tspan></text>
<text x="999.80" y="624.80" font-size="34.5" font-weight="bold">(f)</text>
</svg>
</body></html>
